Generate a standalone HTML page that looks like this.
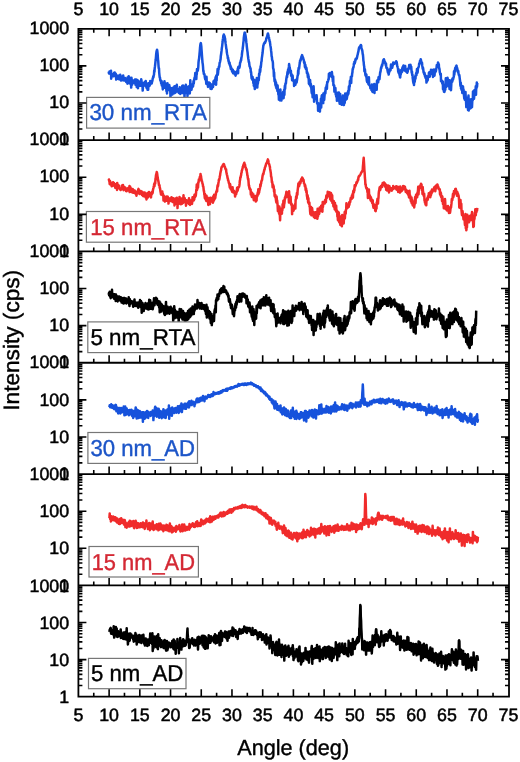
<!DOCTYPE html><html><head><meta charset="utf-8"><title>XRD</title><style>html,body{margin:0;padding:0;background:#fff;}svg{display:block;}text{font-family:"Liberation Sans",Arial,sans-serif;}.k{stroke:#000;stroke-width:0.5px;}.t{stroke-width:0.4px;}</style></head><body>
<svg text-rendering="geometricPrecision" width="520" height="762" viewBox="0 0 520 762">
<rect width="520" height="762" fill="#fff"/>
<polyline fill="none" stroke="#1652dc" stroke-width="2.5" stroke-linejoin="round" points="108.7,71.5 109.0,73.6 109.2,73.6 109.5,71.5 109.7,72.0 110.0,71.9 110.2,73.7 110.5,73.0 110.7,74.4 111.0,70.7 111.2,78.7 111.5,73.9 111.7,75.3 112.0,74.2 112.2,74.0 112.5,75.4 112.7,76.1 113.0,74.6 113.2,74.8 113.5,76.2 113.7,73.8 114.0,72.8 114.2,76.1 114.5,74.4 114.7,72.5 115.0,74.4 115.2,75.1 115.5,73.9 115.7,73.5 116.0,76.2 116.2,79.6 116.5,76.0 116.7,75.2 117.0,77.2 117.2,77.9 117.5,76.3 117.7,77.8 118.0,78.8 118.2,76.7 118.5,75.8 118.7,77.9 119.0,77.8 119.2,79.4 119.5,75.3 119.7,76.4 120.0,76.2 120.2,74.7 120.5,78.1 120.7,78.9 121.0,76.7 121.2,80.6 121.5,79.7 121.7,79.5 122.0,79.1 122.2,80.2 122.5,76.2 122.7,79.8 123.0,79.9 123.2,75.6 123.5,79.6 123.7,78.6 124.0,80.6 124.2,78.4 124.5,79.3 124.7,80.0 125.0,77.9 125.2,80.7 125.5,79.4 125.7,80.6 126.0,78.8 126.2,81.9 126.5,81.1 126.7,79.7 127.0,81.3 127.2,82.5 127.5,83.6 127.7,77.3 128.0,82.0 128.2,81.3 128.5,80.3 128.7,76.3 129.0,83.1 129.2,78.3 129.5,81.9 129.7,83.4 130.0,77.8 130.2,80.4 130.5,78.5 130.7,81.6 131.0,84.2 131.2,87.6 131.5,77.8 131.7,80.3 132.0,82.9 132.2,84.7 132.5,82.5 132.7,80.2 133.0,82.3 133.2,81.8 133.5,81.5 133.7,80.5 134.0,82.8 134.2,82.7 134.5,81.9 134.7,81.7 135.0,79.6 135.2,81.3 135.5,84.8 135.7,82.0 136.0,79.6 136.2,85.3 136.5,83.7 136.7,87.0 137.0,82.9 137.2,81.9 137.5,79.9 137.7,85.7 138.0,88.3 138.2,81.3 138.5,81.8 138.7,84.4 139.0,81.5 139.2,82.7 139.5,82.6 139.7,83.8 140.0,85.8 140.2,83.6 140.5,85.6 140.7,82.8 141.0,84.5 141.2,79.3 141.5,80.8 141.7,85.7 142.0,82.8 142.2,85.4 142.5,85.4 142.7,90.6 143.0,86.1 143.2,86.6 143.5,84.3 143.7,83.0 144.0,83.0 144.2,83.6 144.5,82.3 144.7,83.6 145.0,84.7 145.2,85.6 145.5,84.3 145.7,80.9 146.0,85.0 146.2,85.8 146.5,87.8 146.7,86.7 147.0,84.1 147.2,83.8 147.5,89.8 147.7,86.9 148.0,89.2 148.2,89.8 148.5,83.2 148.7,85.8 149.0,85.8 149.2,86.0 149.5,85.9 149.7,85.0 150.0,84.9 150.2,81.0 150.5,83.6 150.7,82.0 151.0,83.5 151.2,81.8 151.5,83.6 151.7,83.5 152.0,81.9 152.2,81.3 152.5,80.2 152.7,78.4 153.0,78.1 153.2,76.6 153.5,77.1 153.7,75.3 154.0,74.8 154.2,70.6 154.5,71.9 154.7,68.1 155.0,66.2 155.2,64.5 155.5,61.3 155.7,60.0 156.0,56.6 156.2,53.8 156.5,51.6 156.7,50.9 157.0,49.8 157.2,50.1 157.5,52.6 157.7,54.7 158.0,59.8 158.2,60.8 158.5,65.3 158.7,68.1 159.0,68.2 159.2,72.6 159.5,75.6 159.7,77.4 160.0,77.6 160.2,80.2 160.5,79.9 160.7,81.3 161.0,81.3 161.2,83.6 161.5,81.1 161.8,85.4 162.0,83.2 162.3,82.4 162.5,86.0 162.8,89.4 163.0,88.2 163.3,84.9 163.5,87.8 163.8,85.3 164.0,86.1 164.3,86.7 164.5,81.3 164.8,87.7 165.0,84.4 165.3,85.3 165.5,83.6 165.8,83.6 166.0,85.1 166.3,89.4 166.5,91.5 166.8,87.5 167.0,93.5 167.3,87.2 167.5,83.3 167.8,88.4 168.0,89.2 168.3,87.2 168.5,89.1 168.8,89.9 169.0,86.4 169.3,85.0 169.5,88.2 169.8,88.4 170.0,88.1 170.3,91.5 170.5,97.1 170.8,88.0 171.0,90.9 171.3,91.5 171.5,90.9 171.8,91.8 172.0,88.2 172.3,93.3 172.5,94.4 172.8,91.3 173.0,87.7 173.3,90.9 173.5,92.5 173.8,90.3 174.0,88.0 174.3,93.3 174.5,86.3 174.8,90.8 175.0,89.5 175.3,86.5 175.5,92.7 175.8,90.5 176.0,86.6 176.3,91.2 176.5,88.5 176.8,84.8 177.0,87.9 177.3,90.4 177.5,91.4 177.8,90.2 178.0,89.9 178.3,91.0 178.5,89.3 178.8,92.9 179.0,90.3 179.3,90.7 179.5,91.3 179.8,87.3 180.0,88.2 180.3,93.9 180.5,90.8 180.8,89.2 181.0,90.8 181.3,88.6 181.5,90.5 181.8,88.1 182.0,90.5 182.3,85.7 182.5,93.1 182.8,88.3 183.0,85.6 183.3,88.3 183.5,88.6 183.8,89.9 184.0,86.6 184.3,90.5 184.5,97.5 184.8,86.2 185.0,90.2 185.3,88.6 185.5,89.8 185.8,84.7 186.0,86.3 186.3,90.4 186.5,89.1 186.8,93.3 187.0,87.4 187.3,89.5 187.5,96.4 187.8,87.1 188.0,86.7 188.3,88.6 188.5,88.4 188.8,90.3 189.0,88.3 189.3,85.9 189.5,88.0 189.8,93.5 190.0,90.0 190.3,80.2 190.5,86.1 190.8,84.2 191.0,87.4 191.3,85.3 191.5,89.8 191.8,87.3 192.0,86.9 192.3,85.1 192.5,84.4 192.8,85.0 193.0,86.6 193.3,84.0 193.5,81.2 193.8,83.4 194.0,80.3 194.3,79.5 194.5,77.8 194.8,77.8 195.0,77.2 195.3,72.9 195.5,79.1 195.8,77.7 196.0,75.7 196.3,79.1 196.5,75.2 196.8,74.2 197.0,69.0 197.3,71.2 197.5,70.9 197.8,70.6 198.0,69.2 198.3,66.8 198.5,62.6 198.8,59.8 199.0,59.4 199.3,56.5 199.5,54.1 199.8,50.8 200.0,48.1 200.3,45.2 200.5,44.0 200.8,43.1 201.0,44.1 201.3,46.4 201.5,49.3 201.8,53.0 202.0,56.2 202.3,59.9 202.5,62.6 202.8,64.3 203.0,66.5 203.3,71.1 203.5,70.7 203.8,73.8 204.0,74.3 204.3,74.0 204.5,74.7 204.8,77.1 205.0,78.2 205.3,79.6 205.5,76.9 205.8,78.7 206.0,80.2 206.3,83.9 206.5,76.7 206.8,83.1 207.0,81.9 207.3,84.1 207.5,82.3 207.8,84.2 208.0,86.9 208.3,84.5 208.5,84.9 208.8,84.9 209.0,82.6 209.3,85.6 209.5,84.1 209.8,82.9 210.0,84.7 210.3,84.5 210.5,88.8 210.8,85.2 211.0,84.2 211.3,88.9 211.5,88.0 211.8,88.8 212.0,87.3 212.3,85.5 212.5,84.5 212.8,84.6 213.0,87.0 213.3,84.9 213.5,81.2 213.8,84.1 214.1,80.9 214.3,83.7 214.6,80.3 214.8,79.7 215.1,81.9 215.3,80.9 215.6,77.2 215.8,81.1 216.1,84.8 216.3,75.6 216.6,80.6 216.8,75.4 217.1,74.9 217.3,74.6 217.6,69.0 217.8,74.8 218.1,72.6 218.3,69.9 218.6,69.4 218.8,66.8 219.1,66.9 219.3,66.8 219.6,63.0 219.8,62.7 220.1,61.6 220.3,60.6 220.6,59.0 220.8,56.2 221.1,54.2 221.3,52.8 221.6,50.4 221.8,48.3 222.1,46.6 222.3,44.6 222.6,42.0 222.8,39.8 223.1,38.2 223.3,35.9 223.6,35.4 223.8,34.5 224.1,35.6 224.3,35.7 224.6,36.5 224.8,37.7 225.1,38.6 225.3,41.3 225.6,43.4 225.8,44.6 226.1,46.8 226.3,48.6 226.6,49.5 226.8,52.1 227.1,53.8 227.3,54.8 227.6,56.0 227.8,58.3 228.1,57.6 228.3,59.8 228.6,61.5 228.8,60.9 229.1,63.5 229.3,63.2 229.6,62.6 229.8,65.1 230.1,64.9 230.3,66.9 230.6,66.0 230.8,68.9 231.1,67.5 231.3,69.2 231.6,68.6 231.8,69.4 232.1,71.7 232.3,70.9 232.6,70.5 232.8,69.7 233.1,73.3 233.3,73.1 233.6,71.9 233.8,73.0 234.1,71.5 234.3,71.7 234.6,72.2 234.8,74.3 235.1,74.4 235.3,72.4 235.6,75.7 235.8,74.1 236.1,72.8 236.3,73.7 236.6,71.5 236.8,71.4 237.1,71.8 237.3,70.7 237.6,71.4 237.8,68.5 238.1,73.2 238.3,67.0 238.6,68.3 238.8,66.4 239.1,67.8 239.3,67.8 239.6,66.8 239.8,65.7 240.1,62.7 240.3,62.5 240.6,61.7 240.8,60.3 241.1,60.4 241.3,58.4 241.6,56.8 241.8,55.5 242.1,52.6 242.3,51.3 242.6,49.4 242.8,47.7 243.1,45.3 243.3,43.0 243.6,40.8 243.8,37.7 244.1,35.8 244.3,34.3 244.6,32.7 244.8,32.6 245.1,33.5 245.3,34.5 245.6,36.0 245.8,37.6 246.1,39.6 246.3,42.2 246.6,44.0 246.8,46.5 247.1,49.0 247.3,50.6 247.6,52.5 247.8,54.8 248.1,57.0 248.3,58.7 248.6,60.3 248.8,62.2 249.1,62.1 249.3,64.1 249.6,66.4 249.8,66.6 250.1,67.4 250.3,68.6 250.6,68.6 250.8,72.2 251.1,72.0 251.3,74.9 251.6,78.3 251.8,76.3 252.1,79.6 252.3,78.8 252.6,77.1 252.8,79.5 253.1,78.8 253.3,83.0 253.6,79.9 253.8,85.7 254.1,84.8 254.3,79.9 254.6,86.6 254.8,89.1 255.1,84.1 255.3,87.8 255.6,81.2 255.8,85.4 256.1,80.9 256.3,85.3 256.6,80.1 256.8,78.0 257.1,84.0 257.3,87.6 257.6,81.3 257.8,83.9 258.1,81.7 258.3,79.4 258.6,79.8 258.8,80.1 259.1,73.8 259.3,75.3 259.6,73.5 259.8,69.6 260.1,72.1 260.3,70.9 260.6,66.3 260.8,67.5 261.1,64.3 261.3,62.1 261.6,61.2 261.8,58.4 262.1,56.4 262.3,54.9 262.6,52.8 262.8,50.5 263.1,47.8 263.3,45.8 263.6,45.1 263.8,44.0 264.1,43.8 264.3,43.0 264.6,42.8 264.8,42.3 265.1,42.9 265.3,41.8 265.6,41.6 265.8,40.7 266.1,40.2 266.3,38.5 266.6,38.0 266.9,37.0 267.1,36.3 267.4,35.4 267.6,34.2 267.9,33.5 268.1,34.0 268.4,35.3 268.6,36.3 268.9,37.2 269.1,38.5 269.4,39.7 269.6,41.4 269.9,41.7 270.1,43.4 270.4,45.7 270.6,46.6 270.9,48.6 271.1,50.7 271.4,53.0 271.6,56.2 271.9,57.2 272.1,59.7 272.4,60.7 272.6,60.9 272.9,62.8 273.1,67.9 273.4,69.1 273.6,69.2 273.9,76.4 274.1,72.4 274.4,78.8 274.6,81.5 274.9,79.4 275.1,80.1 275.4,84.9 275.6,81.6 275.9,86.7 276.1,82.9 276.4,88.3 276.6,87.5 276.9,87.0 277.1,86.6 277.4,91.0 277.6,85.5 277.9,90.6 278.1,91.0 278.4,94.8 278.6,90.1 278.9,99.6 279.1,94.1 279.4,91.7 279.6,99.4 279.9,100.3 280.1,94.8 280.4,89.5 280.6,95.6 280.9,93.5 281.1,94.7 281.4,100.6 281.6,97.1 281.9,96.4 282.1,96.8 282.4,94.9 282.6,96.8 282.9,96.2 283.1,92.0 283.4,92.6 283.6,98.3 283.9,92.1 284.1,89.9 284.4,94.9 284.6,89.0 284.9,85.7 285.1,88.9 285.4,83.8 285.6,83.2 285.9,83.5 286.1,81.0 286.4,78.4 286.6,77.3 286.9,75.8 287.1,77.2 287.4,72.7 287.6,71.6 287.9,73.9 288.1,69.4 288.4,70.6 288.6,69.1 288.9,66.4 289.1,64.1 289.4,66.2 289.6,67.6 289.9,69.0 290.1,69.2 290.4,71.7 290.6,73.2 290.9,70.9 291.1,75.6 291.4,74.6 291.6,74.3 291.9,75.6 292.1,80.2 292.4,79.6 292.6,75.5 292.9,79.8 293.1,80.2 293.4,81.0 293.6,81.2 293.9,80.1 294.1,85.9 294.4,82.8 294.6,83.8 294.9,82.8 295.1,82.1 295.4,84.7 295.6,83.4 295.9,80.8 296.1,79.8 296.4,80.3 296.6,82.6 296.9,80.5 297.1,79.7 297.4,77.1 297.6,75.8 297.9,75.1 298.1,70.5 298.4,73.9 298.6,68.1 298.9,68.1 299.1,68.6 299.4,65.9 299.6,64.2 299.9,62.3 300.1,60.4 300.4,60.9 300.6,60.7 300.9,58.5 301.1,59.0 301.4,56.8 301.6,56.2 301.9,56.0 302.1,55.1 302.4,56.4 302.6,56.6 302.9,57.3 303.1,57.7 303.4,59.0 303.6,59.9 303.9,60.5 304.1,62.9 304.4,62.6 304.6,62.2 304.9,66.8 305.1,64.6 305.4,65.0 305.6,68.2 305.9,68.9 306.1,67.3 306.4,67.8 306.6,69.3 306.9,73.1 307.1,72.1 307.4,72.3 307.6,74.5 307.9,77.5 308.1,74.2 308.4,76.9 308.6,76.1 308.9,83.6 309.1,84.1 309.4,83.5 309.6,82.3 309.9,85.0 310.1,80.0 310.4,86.2 310.6,83.5 310.9,84.4 311.1,86.8 311.4,88.7 311.6,92.1 311.9,93.5 312.1,92.9 312.4,89.9 312.6,97.2 312.9,93.0 313.1,97.1 313.4,91.4 313.6,86.3 313.9,93.4 314.1,101.7 314.4,97.0 314.6,95.4 314.9,99.1 315.1,98.3 315.4,98.6 315.6,95.8 315.9,98.1 316.1,98.9 316.4,96.5 316.6,95.3 316.9,100.1 317.1,103.4 317.4,102.8 317.6,102.7 317.9,103.2 318.1,110.8 318.4,103.2 318.6,106.6 318.9,110.7 319.1,103.7 319.4,105.0 319.7,108.6 319.9,111.6 320.2,106.0 320.4,105.8 320.7,104.3 320.9,98.8 321.2,107.4 321.4,101.7 321.7,95.8 321.9,101.3 322.2,95.1 322.4,97.3 322.7,100.7 322.9,96.9 323.2,103.1 323.4,93.5 323.7,98.3 323.9,98.2 324.2,99.9 324.4,97.1 324.7,94.1 324.9,92.6 325.2,91.2 325.4,93.4 325.7,87.7 325.9,89.7 326.2,87.2 326.4,87.0 326.7,84.8 326.9,89.0 327.2,82.0 327.4,82.9 327.7,81.9 327.9,81.6 328.2,80.2 328.4,79.1 328.7,79.1 328.9,73.8 329.2,75.8 329.4,73.5 329.7,75.6 329.9,73.0 330.2,73.0 330.4,74.2 330.7,76.1 330.9,74.5 331.2,74.3 331.4,76.7 331.7,73.5 331.9,72.1 332.2,75.4 332.4,76.2 332.7,79.4 332.9,81.6 333.2,76.5 333.4,85.1 333.7,84.9 333.9,85.0 334.2,85.4 334.4,91.6 334.7,87.7 334.9,87.7 335.2,90.7 335.4,88.0 335.7,94.5 335.9,94.2 336.2,96.3 336.4,96.9 336.7,92.9 336.9,100.8 337.2,93.8 337.4,100.4 337.7,92.7 337.9,99.6 338.2,96.1 338.4,99.4 338.7,97.5 338.9,92.5 339.2,96.6 339.4,101.3 339.7,103.8 339.9,96.4 340.2,94.0 340.4,98.6 340.7,100.9 340.9,99.3 341.2,98.5 341.4,104.5 341.7,104.7 341.9,103.8 342.2,97.6 342.4,101.1 342.7,100.0 342.9,95.5 343.2,103.6 343.4,100.7 343.7,98.5 343.9,105.1 344.2,102.4 344.4,102.1 344.7,102.8 344.9,100.6 345.2,93.6 345.4,95.9 345.7,99.9 345.9,93.8 346.2,96.0 346.4,96.4 346.7,99.0 346.9,98.0 347.2,96.3 347.4,92.7 347.7,95.2 347.9,93.6 348.2,90.9 348.4,93.9 348.7,90.6 348.9,86.5 349.2,90.3 349.4,85.7 349.7,86.6 349.9,81.0 350.2,83.3 350.4,80.4 350.7,79.4 350.9,76.7 351.2,82.9 351.4,77.3 351.7,76.6 351.9,76.6 352.2,73.2 352.4,72.7 352.7,68.9 352.9,69.4 353.2,67.4 353.4,67.5 353.7,65.7 353.9,63.6 354.2,62.6 354.4,61.7 354.7,63.4 354.9,62.5 355.2,61.9 355.4,59.7 355.7,58.8 355.9,59.7 356.2,59.4 356.4,58.8 356.7,58.8 356.9,58.0 357.2,56.4 357.4,55.4 357.7,54.6 357.9,53.4 358.2,52.0 358.4,51.7 358.7,49.5 358.9,48.4 359.2,47.4 359.4,47.2 359.7,47.0 359.9,46.6 360.2,46.0 360.4,45.9 360.7,45.2 360.9,45.0 361.2,45.6 361.4,48.3 361.7,48.9 361.9,49.7 362.2,50.1 362.4,51.3 362.7,54.2 362.9,54.4 363.2,57.7 363.4,60.6 363.7,62.3 363.9,65.0 364.2,66.4 364.4,71.3 364.7,69.0 364.9,69.4 365.2,72.5 365.4,75.1 365.7,73.8 365.9,76.4 366.2,74.8 366.4,74.5 366.7,79.8 366.9,81.1 367.2,82.0 367.4,79.2 367.7,78.7 367.9,79.5 368.2,81.9 368.4,84.1 368.7,84.5 368.9,77.2 369.2,84.8 369.4,84.9 369.7,85.6 369.9,85.8 370.2,85.9 370.4,88.3 370.7,87.7 370.9,88.4 371.2,86.7 371.4,89.9 371.7,89.1 371.9,84.5 372.2,91.1 372.5,89.0 372.7,91.9 373.0,89.0 373.2,89.0 373.5,89.6 373.7,88.8 374.0,87.6 374.2,84.1 374.5,92.9 374.7,84.3 375.0,87.2 375.2,89.0 375.5,87.7 375.7,87.5 376.0,87.2 376.2,87.6 376.5,84.8 376.7,89.7 377.0,80.8 377.2,82.7 377.5,80.9 377.7,79.9 378.0,80.8 378.2,82.3 378.5,77.6 378.7,77.0 379.0,78.9 379.2,77.9 379.5,79.2 379.7,76.5 380.0,74.1 380.2,72.2 380.5,71.9 380.7,70.3 381.0,67.9 381.2,68.4 381.5,67.1 381.7,66.0 382.0,64.8 382.2,65.7 382.5,64.0 382.7,63.4 383.0,61.4 383.2,60.3 383.5,59.9 383.7,59.4 384.0,59.3 384.2,60.2 384.5,61.8 384.7,62.4 385.0,61.9 385.2,63.1 385.5,63.7 385.7,65.2 386.0,63.5 386.2,66.4 386.5,68.0 386.7,68.0 387.0,67.7 387.2,68.7 387.5,70.3 387.7,71.4 388.0,72.6 388.2,72.0 388.5,71.0 388.7,74.6 389.0,72.5 389.2,72.1 389.5,71.5 389.7,69.3 390.0,69.7 390.2,69.9 390.5,70.3 390.7,68.6 391.0,64.6 391.2,67.3 391.5,67.4 391.7,67.8 392.0,66.6 392.2,67.7 392.5,66.2 392.7,65.5 393.0,64.6 393.2,62.6 393.5,64.3 393.7,64.0 394.0,63.0 394.2,63.9 394.5,63.6 394.7,62.8 395.0,63.0 395.2,62.8 395.5,63.1 395.7,62.5 396.0,63.2 396.2,61.2 396.5,62.4 396.7,62.1 397.0,64.1 397.2,66.1 397.5,66.6 397.7,67.5 398.0,68.7 398.2,71.6 398.5,69.3 398.7,73.0 399.0,70.6 399.2,73.1 399.5,75.1 399.7,74.5 400.0,77.3 400.2,77.4 400.5,73.4 400.7,74.4 401.0,73.1 401.2,70.0 401.5,71.7 401.7,70.0 402.0,71.9 402.2,68.3 402.5,70.4 402.7,67.1 403.0,68.7 403.2,66.4 403.5,65.5 403.7,66.3 404.0,67.0 404.2,68.1 404.5,70.6 404.7,67.5 405.0,67.1 405.2,66.0 405.5,69.2 405.7,71.2 406.0,71.3 406.2,71.6 406.5,71.5 406.7,71.7 407.0,72.4 407.2,72.8 407.5,69.3 407.7,72.0 408.0,68.7 408.2,69.8 408.5,68.6 408.7,68.4 409.0,67.1 409.2,65.0 409.5,66.9 409.7,65.4 410.0,68.3 410.2,65.0 410.5,64.9 410.7,66.3 411.0,67.1 411.2,66.7 411.5,70.7 411.7,72.9 412.0,71.5 412.2,75.3 412.5,74.6 412.7,78.0 413.0,80.1 413.2,81.8 413.5,83.1 413.7,82.2 414.0,85.1 414.2,81.4 414.5,82.1 414.7,81.8 415.0,79.0 415.2,76.3 415.5,78.7 415.7,74.8 416.0,74.3 416.2,73.1 416.5,75.2 416.7,72.7 417.0,68.9 417.2,72.1 417.5,72.9 417.7,71.6 418.0,68.0 418.2,67.8 418.5,67.4 418.7,66.9 419.0,65.2 419.2,63.4 419.5,64.1 419.7,63.1 420.0,60.8 420.2,60.6 420.5,60.2 420.7,59.2 421.0,60.1 421.2,61.4 421.5,62.2 421.7,62.7 422.0,62.7 422.2,65.4 422.5,67.2 422.7,68.9 423.0,67.8 423.2,68.9 423.5,71.7 423.7,72.8 424.0,72.5 424.2,74.0 424.5,72.8 424.8,75.9 425.0,74.6 425.3,76.7 425.5,77.8 425.8,78.1 426.0,76.0 426.3,79.4 426.5,82.6 426.8,81.1 427.0,79.8 427.3,80.7 427.5,80.4 427.8,80.0 428.0,76.3 428.3,77.1 428.5,75.8 428.8,74.2 429.0,72.5 429.3,74.1 429.5,72.6 429.8,76.8 430.0,72.9 430.3,72.2 430.5,71.5 430.8,74.1 431.0,69.8 431.3,70.5 431.5,70.0 431.8,71.1 432.0,71.4 432.3,73.2 432.5,70.0 432.8,72.2 433.0,77.0 433.3,71.9 433.5,72.7 433.8,71.8 434.0,69.4 434.3,73.5 434.5,75.7 434.8,72.7 435.0,70.0 435.3,72.2 435.5,71.1 435.8,71.4 436.0,70.5 436.3,68.3 436.5,68.2 436.8,65.1 437.0,67.2 437.3,65.5 437.5,65.4 437.8,64.6 438.0,62.6 438.3,63.3 438.5,64.0 438.8,64.1 439.0,67.3 439.3,68.9 439.5,68.8 439.8,72.4 440.0,72.9 440.3,74.8 440.5,74.1 440.8,73.7 441.0,81.1 441.3,80.3 441.5,80.2 441.8,80.7 442.0,82.1 442.3,83.6 442.5,83.9 442.8,81.6 443.0,89.2 443.3,84.8 443.5,88.8 443.8,90.0 444.0,91.8 444.3,85.5 444.5,91.9 444.8,89.8 445.0,89.3 445.3,89.7 445.5,84.2 445.8,78.3 446.0,85.4 446.3,86.7 446.5,85.6 446.8,81.4 447.0,81.6 447.3,81.6 447.5,77.7 447.8,80.3 448.0,79.2 448.3,85.6 448.5,81.4 448.8,86.4 449.0,83.5 449.3,80.2 449.5,88.9 449.8,82.4 450.0,86.2 450.3,89.0 450.5,84.4 450.8,83.2 451.0,90.2 451.3,84.4 451.5,80.5 451.8,79.8 452.0,80.2 452.3,81.8 452.5,78.4 452.8,79.1 453.0,79.8 453.3,78.3 453.5,77.7 453.8,76.5 454.0,71.3 454.3,74.8 454.5,72.7 454.8,71.2 455.0,69.2 455.3,67.9 455.5,67.8 455.8,68.2 456.0,66.3 456.3,65.9 456.5,65.5 456.8,67.7 457.0,67.6 457.3,68.6 457.5,71.3 457.8,70.2 458.0,72.3 458.3,70.9 458.5,73.8 458.8,74.4 459.0,75.5 459.3,74.9 459.5,76.3 459.8,79.1 460.0,80.2 460.3,84.7 460.5,86.0 460.8,82.8 461.0,88.5 461.3,87.0 461.5,89.8 461.8,88.0 462.0,86.0 462.3,92.9 462.5,91.9 462.8,88.0 463.0,86.6 463.3,90.8 463.5,89.5 463.8,92.3 464.0,95.6 464.3,98.7 464.5,93.8 464.8,99.7 465.0,99.7 465.3,95.3 465.5,91.9 465.8,100.7 466.0,100.5 466.3,107.1 466.5,104.6 466.8,103.0 467.0,106.9 467.3,97.6 467.5,102.8 467.8,101.6 468.0,110.0 468.3,106.1 468.5,95.4 468.8,110.5 469.0,102.0 469.3,109.0 469.5,103.4 469.8,105.8 470.0,106.9 470.3,104.6 470.5,99.6 470.8,108.2 471.0,103.9 471.3,101.8 471.5,104.0 471.8,98.9 472.0,107.1 472.3,100.7 472.5,100.6 472.8,99.9 473.0,91.4 473.3,93.4 473.5,97.1 473.8,96.7 474.0,98.8 474.3,95.3 474.5,90.1 474.8,93.9 475.0,93.9 475.3,93.5 475.5,90.9 475.8,86.2 476.0,94.8 476.3,85.9 476.5,88.3 476.8,82.5 477.0,87.0 477.3,82.8"/>
<polyline fill="none" stroke="#f02b2b" stroke-width="2.5" stroke-linejoin="round" points="108.7,180.6 109.0,179.4 109.2,180.9 109.5,181.8 109.7,184.2 110.0,181.0 110.2,183.9 110.5,184.5 110.7,182.8 111.0,182.6 111.2,184.1 111.5,185.1 111.7,186.3 112.0,185.0 112.2,186.0 112.5,183.6 112.7,183.2 113.0,182.3 113.2,183.1 113.5,184.1 113.7,184.9 114.0,183.1 114.2,185.8 114.5,184.6 114.7,184.2 115.0,184.1 115.2,187.8 115.5,185.5 115.7,184.2 116.0,184.3 116.2,187.9 116.5,184.9 116.7,187.3 117.0,189.9 117.2,182.9 117.5,187.8 117.7,185.9 118.0,184.8 118.2,185.6 118.5,187.2 118.7,187.0 119.0,187.2 119.2,185.7 119.5,188.5 119.7,188.9 120.0,189.4 120.2,188.4 120.5,189.7 120.7,190.0 121.0,188.2 121.2,188.6 121.5,188.2 121.7,188.3 122.0,188.8 122.2,185.3 122.5,187.3 122.7,188.5 123.0,185.0 123.2,186.0 123.5,190.2 123.7,186.6 124.0,187.5 124.2,188.8 124.5,187.7 124.7,187.2 125.0,187.8 125.2,188.0 125.5,187.8 125.7,189.0 126.0,191.1 126.2,189.4 126.5,191.3 126.7,190.1 127.0,190.3 127.2,190.0 127.5,188.8 127.7,189.9 128.0,189.8 128.2,187.9 128.5,190.6 128.7,190.5 129.0,190.2 129.2,188.9 129.5,186.0 129.7,192.1 130.0,189.9 130.2,186.8 130.5,191.1 130.7,187.9 131.0,191.3 131.2,190.2 131.5,192.1 131.7,190.9 132.0,191.0 132.2,190.9 132.5,192.6 132.7,188.9 133.0,192.7 133.2,192.0 133.5,190.2 133.7,191.1 134.0,190.5 134.2,191.4 134.5,192.8 134.7,190.4 135.0,192.6 135.2,193.0 135.5,192.6 135.7,194.2 136.0,191.7 136.2,193.0 136.5,195.8 136.7,192.1 137.0,191.9 137.2,192.2 137.5,193.2 137.7,191.3 138.0,192.0 138.2,189.7 138.5,188.9 138.7,191.0 139.0,190.8 139.2,192.1 139.5,194.0 139.7,192.3 140.0,190.9 140.2,193.5 140.5,193.4 140.7,190.9 141.0,193.5 141.2,191.6 141.5,191.2 141.7,192.3 142.0,195.0 142.2,192.3 142.5,193.2 142.7,194.2 143.0,195.7 143.2,196.0 143.5,192.4 143.7,196.2 144.0,194.7 144.2,196.3 144.5,196.2 144.7,192.5 145.0,194.6 145.2,194.1 145.5,195.4 145.7,197.6 146.0,195.0 146.2,193.8 146.5,199.4 146.7,193.4 147.0,195.2 147.2,195.2 147.5,193.1 147.7,196.8 148.0,197.4 148.2,195.3 148.5,195.5 148.7,194.9 149.0,192.1 149.2,195.5 149.5,192.8 149.7,193.2 150.0,195.4 150.2,196.2 150.5,193.1 150.7,196.4 151.0,197.4 151.2,194.6 151.5,194.1 151.7,194.4 152.0,193.3 152.2,191.7 152.5,193.3 152.7,192.4 153.0,189.7 153.2,188.9 153.5,187.8 153.7,186.8 154.0,185.5 154.2,184.0 154.5,186.2 154.7,183.2 155.0,182.2 155.2,183.6 155.5,178.7 155.7,178.1 156.0,175.2 156.2,174.3 156.5,173.6 156.7,172.1 157.0,172.8 157.2,174.0 157.5,176.7 157.7,177.1 158.0,179.8 158.2,180.8 158.5,181.6 158.7,183.0 159.0,185.1 159.2,185.3 159.5,185.1 159.7,187.9 160.0,188.1 160.2,189.3 160.5,191.6 160.7,192.4 161.0,194.6 161.2,193.0 161.5,192.9 161.8,193.4 162.0,194.9 162.3,191.6 162.5,194.3 162.8,193.7 163.0,194.2 163.3,195.5 163.5,200.4 163.8,195.8 164.0,197.2 164.3,197.2 164.5,197.1 164.8,197.7 165.0,201.6 165.3,197.6 165.5,201.1 165.8,199.4 166.0,196.7 166.3,197.1 166.5,197.6 166.8,196.5 167.0,200.7 167.3,199.4 167.5,199.7 167.8,196.8 168.0,199.7 168.3,197.9 168.5,203.6 168.8,198.9 169.0,199.7 169.3,200.0 169.5,198.4 169.8,198.6 170.0,198.7 170.3,201.1 170.5,198.2 170.8,199.3 171.0,200.4 171.3,199.0 171.5,197.2 171.8,197.6 172.0,199.2 172.3,198.2 172.5,202.0 172.8,200.2 173.0,200.2 173.3,198.3 173.5,201.4 173.8,199.7 174.0,198.6 174.3,199.3 174.5,205.4 174.8,199.5 175.0,199.0 175.3,203.1 175.5,202.3 175.8,200.3 176.0,203.8 176.3,198.1 176.5,200.1 176.8,197.8 177.0,204.0 177.3,201.4 177.5,208.1 177.8,202.3 178.0,202.4 178.3,199.2 178.5,199.2 178.8,200.6 179.0,203.6 179.3,199.6 179.5,196.9 179.8,203.6 180.0,203.8 180.3,200.0 180.5,202.8 180.8,204.2 181.0,204.3 181.3,198.6 181.5,202.0 181.8,200.2 182.0,203.8 182.3,202.0 182.5,199.3 182.8,202.0 183.0,203.0 183.3,198.6 183.5,195.3 183.8,200.4 184.0,200.1 184.3,200.6 184.5,197.9 184.8,198.5 185.0,201.7 185.3,202.6 185.5,199.9 185.8,202.1 186.0,205.7 186.3,201.3 186.5,200.8 186.8,200.3 187.0,202.8 187.3,202.3 187.5,202.3 187.8,201.0 188.0,202.7 188.3,202.6 188.5,201.3 188.8,203.9 189.0,198.2 189.3,202.8 189.5,201.0 189.8,202.9 190.0,205.0 190.3,201.1 190.5,200.5 190.8,200.8 191.0,203.5 191.3,203.7 191.5,200.9 191.8,201.7 192.0,203.9 192.3,201.3 192.5,197.2 192.8,198.4 193.0,198.9 193.3,200.0 193.5,197.5 193.8,200.5 194.0,196.4 194.3,199.4 194.5,194.8 194.8,197.6 195.0,194.9 195.3,196.3 195.5,196.4 195.8,195.4 196.0,193.5 196.3,189.8 196.5,188.7 196.8,184.4 197.0,189.9 197.3,188.6 197.5,187.2 197.8,183.5 198.0,187.6 198.3,182.2 198.5,182.8 198.8,179.5 199.0,179.7 199.3,180.5 199.5,179.4 199.8,176.9 200.0,176.8 200.3,176.9 200.5,174.0 200.8,176.5 201.0,175.9 201.3,178.8 201.5,179.3 201.8,181.6 202.0,181.3 202.3,182.7 202.5,183.8 202.8,184.2 203.0,186.3 203.3,186.4 203.5,188.2 203.8,191.2 204.0,190.9 204.3,194.3 204.5,195.0 204.8,198.1 205.0,194.1 205.3,197.2 205.5,199.5 205.8,199.0 206.0,200.0 206.3,201.0 206.5,195.7 206.8,200.1 207.0,200.5 207.3,199.4 207.5,197.6 207.8,201.0 208.0,200.7 208.3,204.9 208.5,203.5 208.8,199.9 209.0,198.4 209.3,198.8 209.5,200.3 209.8,198.8 210.0,204.2 210.3,197.7 210.5,199.6 210.8,200.6 211.0,201.6 211.3,197.9 211.5,199.2 211.8,199.9 212.0,200.1 212.3,198.2 212.5,198.6 212.8,199.5 213.0,202.7 213.3,196.2 213.5,199.4 213.8,200.7 214.1,194.7 214.3,199.5 214.6,199.0 214.8,196.2 215.1,197.3 215.3,197.8 215.6,194.6 215.8,194.8 216.1,192.1 216.3,191.6 216.6,191.6 216.8,190.2 217.1,191.5 217.3,187.7 217.6,185.3 217.8,186.8 218.1,185.6 218.3,183.8 218.6,182.0 218.8,180.2 219.1,179.2 219.3,179.9 219.6,178.0 219.8,176.3 220.1,175.3 220.3,173.6 220.6,172.1 220.8,171.1 221.1,170.1 221.3,168.2 221.6,167.3 221.8,166.8 222.1,166.8 222.3,166.8 222.6,165.6 222.8,165.2 223.1,164.6 223.3,164.6 223.6,163.9 223.8,163.9 224.1,164.6 224.3,166.4 224.6,166.2 224.8,166.6 225.1,167.4 225.3,168.6 225.6,169.3 225.8,169.6 226.1,169.3 226.3,172.0 226.6,173.2 226.8,174.3 227.1,175.3 227.3,176.2 227.6,178.2 227.8,178.2 228.1,180.6 228.3,180.3 228.6,181.6 228.8,182.7 229.1,183.5 229.3,183.4 229.6,186.1 229.8,187.6 230.1,184.1 230.3,185.3 230.6,188.8 230.8,187.2 231.1,188.5 231.3,188.9 231.6,190.4 231.8,188.4 232.1,191.8 232.3,191.5 232.6,187.3 232.8,190.6 233.1,190.5 233.3,192.6 233.6,191.5 233.8,190.7 234.1,191.5 234.3,192.9 234.6,192.6 234.8,192.6 235.1,196.6 235.3,194.2 235.6,191.7 235.8,194.0 236.1,194.3 236.3,191.5 236.6,192.7 236.8,190.5 237.1,187.8 237.3,191.0 237.6,190.7 237.8,190.0 238.1,188.3 238.3,187.0 238.6,187.5 238.8,187.0 239.1,186.8 239.3,185.8 239.6,183.7 239.8,180.8 240.1,179.9 240.3,177.4 240.6,177.7 240.8,176.2 241.1,175.1 241.3,173.3 241.6,172.6 241.8,170.6 242.1,170.2 242.3,169.1 242.6,168.3 242.8,166.8 243.1,166.4 243.3,165.2 243.6,165.0 243.8,164.0 244.1,163.4 244.3,162.8 244.6,164.0 244.8,164.8 245.1,164.8 245.3,167.1 245.6,167.4 245.8,167.6 246.1,169.6 246.3,170.1 246.6,169.2 246.8,171.8 247.1,173.1 247.3,175.0 247.6,175.8 247.8,177.8 248.1,179.5 248.3,178.6 248.6,182.6 248.8,185.6 249.1,185.4 249.3,187.5 249.6,189.0 249.8,188.1 250.1,189.1 250.3,190.0 250.6,189.6 250.8,194.5 251.1,192.6 251.3,193.7 251.6,195.2 251.8,196.9 252.1,192.8 252.3,193.6 252.6,196.0 252.8,197.0 253.1,194.2 253.3,194.2 253.6,198.4 253.8,200.2 254.1,197.1 254.3,197.4 254.6,197.0 254.8,196.3 255.1,197.1 255.3,199.4 255.6,199.0 255.8,201.6 256.1,197.1 256.3,195.7 256.6,200.6 256.8,195.9 257.1,196.4 257.3,196.4 257.6,193.4 257.8,192.3 258.1,194.7 258.3,189.2 258.6,194.0 258.8,189.5 259.1,192.7 259.3,190.9 259.6,189.7 259.8,189.0 260.1,187.4 260.3,184.4 260.6,186.2 260.8,184.2 261.1,183.5 261.3,181.8 261.6,180.6 261.8,180.7 262.1,179.6 262.3,177.9 262.6,175.8 262.8,175.0 263.1,173.9 263.3,174.4 263.6,173.1 263.8,172.0 264.1,170.9 264.3,169.8 264.6,169.6 264.8,167.9 265.1,167.1 265.3,166.9 265.6,166.0 265.8,165.0 266.1,163.9 266.3,163.3 266.6,163.3 266.9,162.5 267.1,162.1 267.4,160.9 267.6,160.3 267.9,159.4 268.1,160.8 268.4,160.8 268.6,162.5 268.9,163.9 269.1,164.0 269.4,164.9 269.6,166.0 269.9,166.8 270.1,168.9 270.4,170.4 270.6,171.6 270.9,173.6 271.1,176.6 271.4,177.0 271.6,178.6 271.9,182.5 272.1,181.4 272.4,183.5 272.6,187.3 272.9,186.5 273.1,184.8 273.4,187.2 273.6,186.2 273.9,189.5 274.1,191.9 274.4,189.8 274.6,195.9 274.9,196.5 275.1,196.8 275.4,195.0 275.6,197.3 275.9,199.2 276.1,201.0 276.4,202.6 276.6,196.5 276.9,200.3 277.1,200.2 277.4,203.0 277.6,205.1 277.9,211.1 278.1,206.3 278.4,209.7 278.6,208.5 278.9,208.6 279.1,213.8 279.4,206.6 279.6,212.0 279.9,216.5 280.1,220.2 280.4,210.2 280.6,209.4 280.9,208.9 281.1,211.4 281.4,212.0 281.6,211.3 281.9,213.8 282.1,209.1 282.4,210.2 282.6,204.3 282.9,206.2 283.1,206.9 283.4,200.7 283.6,206.2 283.9,207.4 284.1,204.5 284.4,203.4 284.6,201.5 284.9,197.7 285.1,198.9 285.4,196.4 285.6,196.2 285.9,194.8 286.1,194.1 286.4,191.7 286.6,193.8 286.9,196.9 287.1,195.5 287.4,193.6 287.6,192.7 287.9,196.0 288.1,194.9 288.4,192.3 288.6,195.2 288.9,202.4 289.1,191.3 289.4,197.7 289.6,195.1 289.9,199.2 290.1,199.5 290.4,199.5 290.6,196.7 290.9,202.8 291.1,204.4 291.4,205.0 291.6,203.7 291.9,205.7 292.1,214.1 292.4,206.2 292.6,208.6 292.9,205.7 293.1,207.9 293.4,208.7 293.6,210.7 293.9,207.6 294.1,206.6 294.4,206.9 294.6,206.9 294.9,205.0 295.1,204.1 295.4,208.5 295.6,199.8 295.9,199.7 296.1,196.7 296.4,196.1 296.6,198.3 296.9,193.0 297.1,193.6 297.4,194.7 297.6,190.8 297.9,188.3 298.1,186.5 298.4,183.4 298.6,184.9 298.9,184.3 299.1,186.1 299.4,185.0 299.6,182.0 299.9,183.5 300.1,181.5 300.4,183.4 300.6,182.3 300.9,180.8 301.1,179.2 301.4,180.4 301.6,178.9 301.9,178.5 302.1,177.5 302.4,177.7 302.6,179.3 302.9,178.7 303.1,180.9 303.4,181.2 303.6,180.1 303.9,183.1 304.1,183.3 304.4,183.6 304.6,184.8 304.9,186.6 305.1,185.1 305.4,186.3 305.6,190.0 305.9,190.4 306.1,188.6 306.4,192.6 306.6,190.8 306.9,196.0 307.1,196.4 307.4,199.0 307.6,195.3 307.9,197.8 308.1,202.1 308.4,198.2 308.6,203.1 308.9,202.3 309.1,204.0 309.4,202.5 309.6,206.7 309.9,207.1 310.1,211.4 310.4,214.2 310.6,208.1 310.9,209.7 311.1,207.1 311.4,215.3 311.6,209.7 311.9,213.3 312.1,208.1 312.4,211.0 312.6,213.9 312.9,213.9 313.1,212.0 313.4,215.9 313.6,213.8 313.9,217.1 314.1,213.3 314.4,216.0 314.6,212.6 314.9,218.0 315.1,214.1 315.4,214.2 315.6,212.3 315.9,217.2 316.1,214.6 316.4,213.4 316.6,218.2 316.9,211.7 317.1,217.1 317.4,218.7 317.6,208.7 317.9,216.8 318.1,215.5 318.4,214.1 318.6,214.2 318.9,209.2 319.1,214.0 319.4,212.8 319.7,207.5 319.9,210.2 320.2,207.7 320.4,211.0 320.7,208.0 320.9,210.4 321.2,205.7 321.4,207.5 321.7,207.2 321.9,207.1 322.2,209.9 322.4,211.8 322.7,202.1 322.9,207.2 323.2,203.9 323.4,203.3 323.7,202.6 323.9,202.4 324.2,201.9 324.4,203.2 324.7,203.5 324.9,200.9 325.2,199.9 325.4,200.6 325.7,199.9 325.9,202.3 326.2,196.6 326.4,195.4 326.7,197.2 326.9,197.9 327.2,196.6 327.4,197.0 327.7,191.7 327.9,194.6 328.2,194.4 328.4,192.9 328.7,193.8 328.9,194.1 329.2,195.2 329.4,193.4 329.7,192.4 329.9,196.4 330.2,199.5 330.4,196.7 330.7,197.0 330.9,192.9 331.2,197.9 331.4,200.9 331.7,194.6 331.9,200.6 332.2,195.4 332.4,202.9 332.7,202.3 332.9,200.6 333.2,202.5 333.4,206.2 333.7,200.9 333.9,206.7 334.2,206.0 334.4,205.4 334.7,209.5 334.9,202.7 335.2,207.1 335.4,205.0 335.7,208.6 335.9,210.9 336.2,205.7 336.4,211.6 336.7,212.3 336.9,210.5 337.2,212.6 337.4,216.8 337.7,215.2 337.9,220.0 338.2,212.2 338.4,212.1 338.7,220.9 338.9,213.0 339.2,222.3 339.4,218.4 339.7,221.3 339.9,218.0 340.2,223.5 340.4,225.1 340.7,225.1 340.9,224.9 341.2,216.3 341.4,225.5 341.7,222.0 341.9,226.3 342.2,215.1 342.4,222.1 342.7,218.4 342.9,219.6 343.2,222.4 343.4,221.8 343.7,223.5 343.9,219.7 344.2,219.3 344.4,217.6 344.7,212.1 344.9,218.3 345.2,211.6 345.4,211.7 345.7,213.7 345.9,209.7 346.2,209.5 346.4,203.2 346.7,206.8 346.9,205.4 347.2,205.8 347.4,208.0 347.7,205.6 347.9,205.4 348.2,205.5 348.4,207.1 348.7,206.8 348.9,204.8 349.2,202.2 349.4,204.9 349.7,201.9 349.9,201.6 350.2,202.2 350.4,200.1 350.7,198.4 350.9,197.7 351.2,198.8 351.4,199.0 351.7,198.9 351.9,195.5 352.2,196.5 352.4,195.3 352.7,193.7 352.9,197.7 353.2,191.6 353.4,190.7 353.7,191.3 353.9,192.5 354.2,189.1 354.4,190.7 354.7,185.3 354.9,187.0 355.2,186.6 355.4,185.8 355.7,185.5 355.9,184.7 356.2,183.9 356.4,182.3 356.7,183.2 356.9,182.1 357.2,181.6 357.4,181.8 357.7,180.4 357.9,179.5 358.2,179.9 358.4,177.9 358.7,176.6 358.9,176.8 359.2,175.9 359.4,176.1 359.7,175.6 359.9,175.2 360.2,174.9 360.4,174.6 360.7,174.0 360.9,173.3 361.2,172.7 361.4,172.3 361.7,172.2 361.9,171.8 362.2,171.0 362.4,171.1 362.7,170.3 362.9,166.9 363.2,163.5 363.4,160.8 363.7,157.8 363.9,161.1 364.2,166.1 364.4,170.0 364.7,173.3 364.9,177.7 365.2,180.7 365.4,184.7 365.7,184.3 365.9,186.6 366.2,187.6 366.4,188.5 366.7,188.7 366.9,187.9 367.2,189.3 367.4,192.2 367.7,191.7 367.9,198.0 368.2,195.7 368.4,193.7 368.7,194.9 368.9,189.4 369.2,196.7 369.4,197.9 369.7,195.3 369.9,195.8 370.2,196.6 370.4,199.4 370.7,200.5 370.9,197.3 371.2,199.0 371.4,201.3 371.7,201.3 371.9,200.8 372.2,203.1 372.5,200.8 372.7,200.1 373.0,205.1 373.2,206.0 373.5,207.8 373.7,204.9 374.0,204.3 374.2,206.6 374.5,206.6 374.7,207.1 375.0,207.1 375.2,210.6 375.5,208.5 375.7,211.2 376.0,206.6 376.2,205.1 376.5,208.6 376.7,202.8 377.0,202.0 377.2,201.1 377.5,198.7 377.7,202.3 378.0,203.6 378.2,199.5 378.5,197.8 378.7,193.7 379.0,190.8 379.2,190.9 379.5,188.2 379.7,187.3 380.0,187.8 380.2,190.0 380.5,188.7 380.7,187.5 381.0,186.0 381.2,185.8 381.5,187.1 381.7,186.2 382.0,184.9 382.2,186.9 382.5,184.3 382.7,182.9 383.0,184.0 383.2,185.1 383.5,184.3 383.7,184.1 384.0,182.4 384.2,184.1 384.5,184.2 384.7,184.2 385.0,183.5 385.2,186.7 385.5,185.7 385.7,184.5 386.0,187.3 386.2,190.0 386.5,185.3 386.7,187.9 387.0,190.3 387.2,190.5 387.5,186.7 387.7,187.5 388.0,185.5 388.2,188.2 388.5,186.2 388.7,186.9 389.0,192.4 389.2,186.9 389.5,186.1 389.7,188.6 390.0,189.0 390.2,189.1 390.5,190.4 390.7,188.0 391.0,188.8 391.2,189.8 391.5,188.3 391.7,190.7 392.0,190.1 392.2,188.8 392.5,188.4 392.7,188.7 393.0,189.0 393.2,185.9 393.5,186.7 393.7,187.3 394.0,187.1 394.2,187.4 394.5,187.3 394.7,188.2 395.0,187.6 395.2,188.5 395.5,188.6 395.7,188.2 396.0,187.8 396.2,186.2 396.5,189.6 396.7,188.0 397.0,189.0 397.2,189.9 397.5,189.2 397.7,186.8 398.0,188.0 398.2,191.9 398.5,187.0 398.7,191.0 399.0,187.9 399.2,189.6 399.5,191.1 399.7,188.2 400.0,192.6 400.2,186.6 400.5,189.4 400.7,188.7 401.0,190.1 401.2,190.6 401.5,191.1 401.7,191.0 402.0,188.7 402.2,188.0 402.5,189.8 402.7,188.4 403.0,186.2 403.2,186.0 403.5,188.4 403.7,188.3 404.0,188.6 404.2,189.1 404.5,186.5 404.7,189.1 405.0,187.1 405.2,189.8 405.5,189.3 405.7,191.9 406.0,190.6 406.2,189.7 406.5,190.5 406.7,191.3 407.0,192.4 407.2,193.1 407.5,191.0 407.7,191.1 408.0,194.3 408.2,193.5 408.5,195.6 408.7,195.1 409.0,197.4 409.2,196.3 409.5,190.8 409.7,195.6 410.0,197.9 410.2,195.6 410.5,198.1 410.7,199.9 411.0,201.4 411.2,201.5 411.5,197.4 411.7,203.3 412.0,199.7 412.2,202.3 412.5,201.0 412.7,205.3 413.0,203.7 413.2,205.0 413.5,206.0 413.7,205.5 414.0,203.7 414.2,207.4 414.5,204.7 414.7,204.2 415.0,198.2 415.2,196.9 415.5,203.2 415.7,200.5 416.0,195.1 416.2,198.2 416.5,196.7 416.7,194.1 417.0,194.2 417.2,197.1 417.5,192.4 417.7,193.6 418.0,191.0 418.2,186.7 418.5,194.4 418.7,191.2 419.0,188.9 419.2,188.4 419.5,187.9 419.7,186.2 420.0,187.5 420.2,187.8 420.5,185.1 420.7,184.9 421.0,183.8 421.2,186.5 421.5,184.4 421.7,187.6 422.0,190.5 422.2,188.2 422.5,193.9 422.7,187.1 423.0,191.3 423.2,192.4 423.5,194.6 423.7,195.9 424.0,195.1 424.2,193.8 424.5,200.6 424.8,200.8 425.0,202.8 425.3,199.4 425.5,204.5 425.8,202.6 426.0,204.4 426.3,205.3 426.5,199.6 426.8,200.5 427.0,200.2 427.3,198.1 427.5,200.1 427.8,199.4 428.0,196.3 428.3,195.9 428.5,197.3 428.8,193.2 429.0,196.3 429.3,196.8 429.5,196.4 429.8,193.1 430.0,197.0 430.3,197.1 430.5,191.7 430.8,195.7 431.0,194.7 431.3,193.6 431.5,190.8 431.8,193.0 432.0,189.6 432.3,190.8 432.5,191.7 432.8,191.0 433.0,189.7 433.3,190.3 433.5,189.4 433.8,189.7 434.0,188.0 434.3,187.3 434.5,187.8 434.8,186.7 435.0,189.5 435.3,191.2 435.5,188.4 435.8,188.8 436.0,185.7 436.3,186.6 436.5,185.2 436.8,187.1 437.0,186.2 437.3,184.6 437.5,187.2 437.8,185.2 438.0,186.0 438.3,187.0 438.5,188.5 438.8,189.2 439.0,188.5 439.3,188.9 439.5,189.2 439.8,189.4 440.0,194.2 440.3,191.7 440.5,195.5 440.8,192.8 441.0,193.8 441.3,197.3 441.5,196.2 441.8,195.9 442.0,200.9 442.3,196.5 442.5,198.1 442.8,201.7 443.0,204.1 443.3,201.9 443.5,201.0 443.8,208.2 444.0,203.9 444.3,202.9 444.5,204.8 444.8,207.5 445.0,199.0 445.3,203.2 445.5,209.0 445.8,207.5 446.0,206.7 446.3,206.6 446.5,208.7 446.8,210.2 447.0,206.6 447.3,207.3 447.5,210.6 447.8,208.2 448.0,206.0 448.3,209.2 448.5,207.2 448.8,212.0 449.0,213.1 449.3,209.4 449.5,211.1 449.8,211.7 450.0,212.7 450.3,210.8 450.5,207.8 450.8,206.8 451.0,207.7 451.3,204.9 451.5,203.4 451.8,199.0 452.0,200.3 452.3,200.0 452.5,198.6 452.8,195.9 453.0,193.8 453.3,197.1 453.5,196.4 453.8,194.8 454.0,190.9 454.3,192.4 454.5,192.2 454.8,192.6 455.0,190.9 455.3,188.9 455.5,189.2 455.8,188.8 456.0,193.5 456.3,190.5 456.5,194.1 456.8,193.0 457.0,195.8 457.3,192.0 457.5,195.3 457.8,193.3 458.0,193.9 458.3,195.2 458.5,195.3 458.8,197.1 459.0,199.3 459.3,207.4 459.5,201.2 459.8,200.0 460.0,205.5 460.3,208.0 460.5,200.1 460.8,207.6 461.0,204.1 461.3,203.7 461.5,210.4 461.8,213.3 462.0,215.2 462.3,211.3 462.5,211.0 462.8,213.3 463.0,215.3 463.3,217.1 463.5,219.4 463.8,217.4 464.0,218.8 464.3,218.5 464.5,216.1 464.8,223.2 465.0,225.2 465.3,223.6 465.5,214.0 465.8,228.3 466.0,219.1 466.3,230.2 466.5,229.2 466.8,223.5 467.0,227.2 467.3,214.7 467.5,219.2 467.8,217.1 468.0,220.3 468.3,218.9 468.5,219.1 468.8,218.3 469.0,222.3 469.3,217.5 469.5,216.3 469.8,218.4 470.0,220.0 470.3,220.2 470.5,215.6 470.8,217.7 471.0,218.6 471.3,216.7 471.5,214.6 471.8,218.4 472.0,212.1 472.3,220.1 472.5,216.8 472.8,218.5 473.0,220.3 473.3,226.9 473.5,226.3 473.8,226.4 474.0,218.4 474.3,215.7 474.5,219.4 474.8,212.7 475.0,214.9 475.3,209.3 475.5,213.7 475.8,215.3 476.0,209.3 476.3,212.4 476.5,211.5 476.8,210.8 477.0,210.8 477.3,207.8"/>
<polyline fill="none" stroke="#000" stroke-width="2.5" stroke-linejoin="round" points="108.7,294.7 109.0,293.1 109.2,295.3 109.5,294.4 109.7,291.7 110.0,296.4 110.2,294.5 110.5,295.9 110.7,298.2 111.0,295.6 111.2,293.3 111.5,294.1 111.7,297.3 112.0,289.7 112.2,296.1 112.5,296.5 112.7,293.8 113.0,296.3 113.2,297.2 113.5,294.8 113.7,295.5 114.0,298.7 114.2,294.2 114.5,295.1 114.7,298.7 115.0,297.1 115.2,294.4 115.5,297.2 115.7,301.0 116.0,294.5 116.2,299.0 116.5,299.0 116.7,297.3 117.0,299.0 117.2,296.6 117.5,301.0 117.7,301.4 118.0,296.5 118.2,297.9 118.5,298.6 118.7,297.2 119.0,299.3 119.2,296.6 119.5,299.9 119.7,298.3 120.0,298.9 120.2,300.0 120.5,301.0 120.7,297.2 121.0,300.9 121.2,301.1 121.5,299.2 121.7,302.6 122.0,298.0 122.2,298.5 122.5,300.5 122.7,298.4 123.0,302.8 123.2,300.4 123.5,303.6 123.7,297.9 124.0,298.2 124.2,303.1 124.5,298.1 124.7,302.7 125.0,298.8 125.2,301.1 125.5,303.1 125.7,300.6 126.0,298.4 126.2,299.8 126.5,303.4 126.7,301.4 127.0,302.6 127.2,301.4 127.5,301.9 127.7,300.9 128.0,299.2 128.2,302.6 128.5,301.9 128.7,297.3 129.0,301.7 129.2,303.9 129.5,306.1 129.7,298.9 130.0,302.2 130.2,303.3 130.5,303.8 130.7,300.7 131.0,303.4 131.2,301.4 131.5,302.3 131.7,301.3 132.0,303.3 132.2,301.8 132.5,303.4 132.7,302.6 133.0,305.0 133.2,306.8 133.5,302.7 133.7,301.4 134.0,302.7 134.2,302.1 134.5,299.5 134.7,303.5 135.0,302.4 135.2,305.7 135.5,303.3 135.7,305.9 136.0,305.6 136.2,302.7 136.5,303.2 136.7,302.8 137.0,303.0 137.2,306.1 137.5,303.0 137.7,303.3 138.0,302.5 138.2,307.8 138.5,303.7 138.7,304.2 139.0,302.6 139.2,305.3 139.5,302.9 139.7,303.3 140.0,300.0 140.2,301.0 140.5,305.5 140.7,307.0 141.0,301.1 141.2,306.1 141.5,305.8 141.7,312.8 142.0,303.0 142.2,303.9 142.5,303.0 142.7,307.7 143.0,308.3 143.2,305.1 143.5,309.6 143.7,311.1 144.0,304.8 144.2,307.4 144.5,305.6 144.7,304.5 145.0,305.0 145.2,305.7 145.5,303.1 145.7,306.2 146.0,308.5 146.2,304.1 146.5,305.3 146.7,304.3 147.0,307.7 147.2,306.5 147.5,309.2 147.7,306.1 148.0,303.2 148.2,308.3 148.5,306.0 148.7,309.5 149.0,308.3 149.2,299.7 149.5,301.3 149.7,306.2 150.0,304.1 150.2,300.3 150.5,304.4 150.7,308.8 151.0,307.0 151.2,303.2 151.5,305.9 151.7,307.6 152.0,304.5 152.2,309.0 152.5,302.8 152.7,309.2 153.0,307.5 153.2,304.9 153.5,303.9 153.7,303.3 154.0,298.2 154.2,304.8 154.5,305.2 154.7,303.8 155.0,303.2 155.2,301.8 155.5,299.3 155.7,299.6 156.0,297.7 156.2,302.7 156.5,298.3 156.7,301.8 157.0,299.0 157.2,303.8 157.5,304.5 157.7,304.9 158.0,304.4 158.2,301.6 158.5,302.0 158.7,301.4 159.0,304.2 159.2,307.7 159.5,301.6 159.7,312.2 160.0,303.6 160.2,302.4 160.5,306.5 160.7,308.6 161.0,305.4 161.2,304.0 161.5,311.5 161.7,304.4 162.0,310.2 162.2,308.4 162.5,307.3 162.7,308.8 163.0,306.0 163.2,306.0 163.5,310.0 163.7,306.3 164.0,307.1 164.2,313.3 164.5,314.4 164.7,312.6 165.0,315.0 165.2,308.9 165.5,310.0 165.7,307.7 166.0,301.9 166.2,310.5 166.5,310.6 166.7,312.8 167.0,306.7 167.2,313.5 167.5,308.7 167.7,306.8 168.0,309.7 168.2,313.1 168.5,310.5 168.7,311.9 169.0,308.1 169.2,312.1 169.5,313.7 169.7,308.3 170.0,312.2 170.2,307.1 170.5,311.8 170.7,306.8 171.0,312.5 171.2,311.4 171.5,308.2 171.7,312.7 172.0,308.8 172.2,312.1 172.5,309.2 172.7,313.6 173.0,310.4 173.2,321.2 173.5,313.7 173.7,314.0 174.0,308.4 174.2,306.2 174.5,310.2 174.7,318.3 175.0,310.0 175.2,316.7 175.5,316.9 175.7,311.3 176.0,312.6 176.2,317.4 176.5,311.7 176.7,312.2 177.0,311.8 177.2,313.9 177.5,313.5 177.7,317.8 178.0,314.8 178.2,317.8 178.5,313.8 178.7,322.2 179.0,313.8 179.2,313.8 179.5,311.8 179.7,308.9 180.0,311.6 180.2,315.2 180.5,311.3 180.7,317.3 181.0,309.4 181.2,309.3 181.5,315.8 181.7,316.1 182.0,311.2 182.3,318.5 182.5,319.5 182.8,316.2 183.0,310.9 183.3,319.3 183.5,314.3 183.8,314.7 184.0,316.9 184.3,313.1 184.5,320.4 184.8,313.4 185.0,319.1 185.3,318.1 185.5,321.3 185.8,317.1 186.0,318.2 186.3,314.0 186.5,314.5 186.8,313.2 187.0,317.7 187.3,313.0 187.5,320.0 187.8,314.7 188.0,311.1 188.3,312.8 188.5,318.7 188.8,311.5 189.0,316.7 189.3,309.7 189.5,316.2 189.8,317.2 190.0,316.3 190.3,316.8 190.5,310.8 190.8,308.4 191.0,309.1 191.3,315.4 191.5,313.6 191.8,314.4 192.0,310.0 192.3,313.7 192.5,306.5 192.8,311.7 193.0,307.3 193.3,308.5 193.5,311.0 193.8,314.1 194.0,307.8 194.3,306.8 194.5,310.7 194.8,309.3 195.0,304.6 195.3,306.9 195.5,305.6 195.8,308.5 196.0,307.2 196.3,307.1 196.5,306.2 196.8,304.6 197.0,308.6 197.3,306.8 197.5,300.1 197.8,304.8 198.0,306.3 198.3,303.8 198.5,303.3 198.8,304.0 199.0,306.3 199.3,303.1 199.5,306.3 199.8,308.6 200.0,307.5 200.3,307.7 200.5,304.9 200.8,308.3 201.0,306.0 201.3,307.7 201.5,302.9 201.8,308.8 202.0,304.4 202.3,305.9 202.5,308.5 202.8,306.0 203.0,304.9 203.3,305.7 203.5,308.8 203.8,308.9 204.0,307.9 204.3,305.3 204.5,306.4 204.8,309.8 205.0,310.6 205.3,307.3 205.5,305.8 205.8,312.3 206.0,314.1 206.3,311.8 206.5,304.7 206.8,317.5 207.0,313.4 207.3,315.2 207.5,307.3 207.8,312.2 208.0,314.3 208.3,316.3 208.5,312.8 208.8,310.9 209.0,310.9 209.3,315.6 209.5,318.3 209.8,318.6 210.0,311.9 210.3,315.9 210.5,318.5 210.8,323.0 211.0,321.7 211.3,321.0 211.5,313.9 211.8,325.1 212.0,320.9 212.3,322.5 212.5,319.3 212.8,320.4 213.0,319.3 213.3,318.4 213.5,315.9 213.8,321.0 214.0,321.0 214.3,314.0 214.5,311.2 214.8,309.4 215.0,308.9 215.3,311.5 215.5,305.5 215.8,312.3 216.0,300.5 216.3,299.7 216.5,299.2 216.8,297.9 217.0,299.0 217.3,300.4 217.5,294.6 217.8,296.2 218.0,297.6 218.3,299.1 218.5,294.8 218.8,295.8 219.0,296.0 219.3,293.5 219.5,293.9 219.8,292.0 220.0,290.8 220.3,289.7 220.5,293.3 220.8,293.2 221.0,291.1 221.3,288.4 221.5,291.9 221.8,290.0 222.0,292.2 222.3,290.0 222.5,288.0 222.8,289.3 223.0,287.5 223.3,292.1 223.5,286.1 223.8,288.7 224.0,289.3 224.3,286.7 224.5,290.7 224.8,291.2 225.0,291.7 225.3,291.9 225.5,290.6 225.8,292.4 226.0,290.4 226.3,291.7 226.5,292.6 226.8,292.9 227.0,294.2 227.3,292.8 227.5,294.3 227.8,294.0 228.0,295.7 228.3,296.8 228.5,295.4 228.8,300.1 229.0,301.7 229.3,299.6 229.5,299.4 229.8,299.1 230.0,301.2 230.3,302.3 230.5,305.5 230.8,305.1 231.0,307.9 231.3,308.3 231.5,306.3 231.8,304.7 232.0,305.7 232.3,306.6 232.5,310.1 232.8,314.1 233.0,308.8 233.3,314.0 233.5,310.9 233.8,314.3 234.0,316.2 234.3,312.1 234.5,309.4 234.8,309.1 235.0,310.3 235.3,305.6 235.5,303.7 235.8,305.2 236.0,307.7 236.3,301.7 236.5,305.0 236.8,303.7 237.0,300.6 237.3,298.7 237.5,296.3 237.8,296.5 238.0,298.4 238.3,299.3 238.5,296.6 238.8,296.5 239.0,296.0 239.3,301.8 239.5,294.5 239.8,294.1 240.0,298.7 240.3,294.5 240.5,298.2 240.8,294.7 241.0,297.9 241.3,301.4 241.5,294.9 241.8,295.6 242.0,293.7 242.3,296.9 242.5,294.6 242.8,293.4 243.0,295.7 243.3,295.4 243.5,294.6 243.8,293.8 244.0,296.6 244.3,294.2 244.5,294.2 244.8,295.8 245.0,297.6 245.3,296.3 245.5,296.3 245.8,295.9 246.0,296.8 246.3,297.5 246.5,303.2 246.8,296.0 247.0,299.1 247.3,300.9 247.5,299.5 247.8,299.5 248.0,304.0 248.3,306.6 248.5,306.7 248.8,304.8 249.0,304.4 249.3,307.8 249.5,302.6 249.8,305.4 250.0,312.2 250.3,310.2 250.5,310.2 250.8,309.9 251.0,310.1 251.3,309.4 251.5,314.4 251.8,316.8 252.0,315.7 252.3,306.6 252.5,319.1 252.8,318.2 253.0,321.0 253.3,314.2 253.5,309.1 253.8,312.4 254.0,314.3 254.3,325.0 254.5,314.8 254.8,315.1 255.0,319.4 255.3,318.2 255.5,317.6 255.8,312.2 256.1,318.7 256.3,313.4 256.6,305.9 256.8,313.2 257.1,305.9 257.3,305.8 257.6,306.7 257.8,304.8 258.1,306.0 258.3,305.0 258.6,304.8 258.8,303.2 259.1,307.4 259.3,302.1 259.6,303.0 259.8,301.9 260.1,302.4 260.3,300.6 260.6,308.2 260.8,302.5 261.1,304.7 261.3,301.8 261.6,299.5 261.8,301.0 262.1,300.5 262.3,299.2 262.6,302.0 262.8,305.2 263.1,302.0 263.3,303.8 263.6,304.2 263.8,297.2 264.1,305.3 264.3,298.3 264.6,305.0 264.8,301.4 265.1,303.7 265.3,305.5 265.6,302.9 265.8,297.2 266.1,296.8 266.3,295.3 266.6,303.1 266.8,301.9 267.1,303.4 267.3,302.6 267.6,304.5 267.8,299.7 268.1,298.2 268.3,300.9 268.6,304.5 268.8,300.6 269.1,297.8 269.3,302.2 269.6,305.5 269.8,305.2 270.1,303.8 270.3,303.8 270.6,300.2 270.8,305.7 271.1,310.9 271.3,305.2 271.6,311.0 271.8,304.0 272.1,306.5 272.3,306.7 272.6,308.2 272.8,303.9 273.1,312.8 273.3,309.2 273.6,304.5 273.8,313.4 274.1,312.6 274.3,308.9 274.6,313.2 274.8,316.9 275.1,317.3 275.3,316.9 275.6,314.1 275.8,318.2 276.1,322.5 276.3,326.3 276.6,321.1 276.8,322.3 277.1,323.3 277.3,319.1 277.6,313.6 277.8,318.6 278.1,320.4 278.3,322.4 278.6,321.8 278.8,319.4 279.1,320.6 279.3,322.3 279.6,320.3 279.8,321.0 280.1,317.7 280.3,322.2 280.6,323.2 280.8,319.3 281.1,316.7 281.3,320.6 281.6,315.1 281.8,316.2 282.1,314.6 282.3,319.7 282.6,313.6 282.8,317.8 283.1,310.3 283.3,323.9 283.6,319.3 283.8,314.2 284.1,314.9 284.3,324.0 284.6,317.3 284.8,311.5 285.1,316.7 285.3,315.3 285.6,320.1 285.8,318.1 286.1,311.8 286.3,318.8 286.6,321.7 286.8,323.5 287.1,319.8 287.3,325.6 287.6,324.3 287.8,321.9 288.1,325.0 288.3,310.7 288.6,324.3 288.8,325.2 289.1,319.2 289.3,322.4 289.6,316.5 289.8,318.0 290.1,317.7 290.3,314.2 290.6,316.9 290.8,311.0 291.1,316.5 291.3,322.6 291.6,322.9 291.8,315.9 292.1,321.4 292.3,316.3 292.6,305.5 292.8,311.6 293.1,312.8 293.3,312.2 293.6,313.6 293.8,308.9 294.1,309.1 294.3,315.9 294.6,309.4 294.8,309.5 295.1,307.7 295.3,309.7 295.6,309.8 295.8,305.7 296.1,310.7 296.3,306.0 296.6,308.5 296.8,306.8 297.1,309.2 297.3,308.2 297.6,308.9 297.8,307.7 298.1,307.0 298.3,307.7 298.6,307.1 298.8,304.9 299.1,303.0 299.3,308.3 299.6,310.2 299.8,304.4 300.1,308.1 300.3,305.2 300.6,307.3 300.8,309.1 301.1,308.9 301.3,306.2 301.6,301.9 301.8,306.3 302.1,306.8 302.3,310.0 302.6,305.1 302.8,306.6 303.1,307.4 303.3,313.9 303.6,303.9 303.8,309.0 304.1,306.7 304.3,305.2 304.6,303.4 304.8,304.9 305.1,310.1 305.3,307.1 305.6,306.4 305.8,308.4 306.1,313.8 306.3,316.7 306.6,313.5 306.8,314.5 307.1,314.5 307.3,311.7 307.6,310.2 307.8,318.4 308.1,314.8 308.3,316.4 308.6,315.1 308.8,319.3 309.1,323.0 309.3,317.1 309.6,319.6 309.8,319.7 310.1,322.4 310.3,320.3 310.6,320.9 310.8,316.0 311.1,321.8 311.3,319.2 311.6,325.4 311.8,322.4 312.1,329.9 312.3,321.1 312.6,320.2 312.8,328.3 313.1,327.7 313.3,320.1 313.6,335.0 313.8,324.9 314.1,329.6 314.3,323.2 314.6,327.1 314.8,328.4 315.1,321.6 315.3,324.5 315.6,326.2 315.8,330.5 316.1,325.9 316.3,327.5 316.6,324.2 316.8,324.5 317.1,323.8 317.3,320.7 317.6,314.1 317.8,314.6 318.1,322.5 318.3,322.8 318.6,321.1 318.8,318.4 319.1,318.6 319.3,315.5 319.6,324.8 319.8,313.7 320.1,326.2 320.3,318.2 320.6,328.8 320.8,321.5 321.1,318.3 321.3,319.9 321.6,317.5 321.8,324.9 322.1,319.0 322.3,319.9 322.6,315.6 322.8,320.9 323.1,313.2 323.3,316.1 323.6,323.0 323.8,310.8 324.1,319.3 324.3,327.3 324.6,318.5 324.8,323.2 325.1,322.0 325.3,318.5 325.6,310.7 325.8,313.7 326.1,313.5 326.3,317.0 326.6,312.8 326.8,310.1 327.1,308.1 327.3,311.7 327.6,313.4 327.8,305.5 328.1,313.3 328.3,315.1 328.6,313.4 328.8,314.2 329.1,313.2 329.4,318.5 329.6,314.0 329.9,320.4 330.1,317.9 330.4,310.1 330.6,315.9 330.9,318.1 331.1,320.2 331.4,317.8 331.6,315.9 331.9,320.6 332.1,323.6 332.4,311.4 332.6,315.8 332.9,324.4 333.1,319.5 333.4,314.9 333.6,325.1 333.9,326.2 334.1,318.2 334.4,322.0 334.6,319.4 334.9,320.9 335.1,323.5 335.4,318.9 335.6,319.9 335.9,319.2 336.1,313.9 336.4,322.7 336.6,324.5 336.9,322.0 337.1,321.8 337.4,325.1 337.6,319.4 337.9,318.2 338.1,324.4 338.4,323.5 338.6,330.1 338.9,317.8 339.1,323.6 339.4,319.5 339.6,333.4 339.9,324.0 340.1,329.2 340.4,318.3 340.6,323.6 340.9,331.1 341.1,327.0 341.4,326.8 341.6,332.1 341.9,329.5 342.1,329.1 342.4,329.3 342.6,323.1 342.9,333.5 343.1,331.1 343.4,326.1 343.6,324.8 343.9,318.5 344.1,321.0 344.4,330.2 344.6,315.9 344.9,322.4 345.1,330.2 345.4,327.4 345.6,324.1 345.9,323.9 346.1,320.6 346.4,322.1 346.6,321.1 346.9,325.7 347.1,323.0 347.4,316.8 347.6,324.1 347.9,321.2 348.1,321.4 348.4,321.0 348.6,318.6 348.9,316.0 349.1,318.8 349.4,317.5 349.6,312.4 349.9,311.9 350.1,312.6 350.4,312.9 350.6,310.8 350.9,301.9 351.1,313.3 351.4,307.7 351.6,306.0 351.9,306.4 352.1,308.3 352.4,307.1 352.6,301.3 352.9,302.9 353.1,302.3 353.4,304.0 353.6,305.9 353.9,303.4 354.1,309.1 354.4,306.0 354.6,310.8 354.9,304.8 355.1,300.0 355.4,304.7 355.6,299.0 355.9,299.8 356.1,302.1 356.4,301.4 356.6,302.4 356.9,299.6 357.1,302.7 357.4,301.9 357.6,300.3 357.9,297.3 358.1,296.7 358.4,298.9 358.6,301.3 358.9,294.4 359.1,292.0 359.4,286.5 359.6,280.6 359.9,280.8 360.1,276.4 360.4,273.2 360.6,274.7 360.9,278.2 361.1,285.0 361.4,285.7 361.6,292.1 361.9,296.7 362.1,297.8 362.4,298.1 362.6,301.2 362.9,298.3 363.1,303.0 363.4,303.7 363.6,301.9 363.9,305.3 364.1,308.9 364.4,313.3 364.6,305.3 364.9,310.0 365.1,310.7 365.4,309.5 365.6,309.4 365.9,313.2 366.1,314.6 366.4,308.7 366.6,318.3 366.9,313.8 367.1,315.2 367.4,311.5 367.6,320.1 367.9,312.1 368.1,315.6 368.4,318.3 368.6,311.0 368.9,317.1 369.1,319.7 369.4,322.0 369.6,317.2 369.9,316.1 370.1,319.3 370.4,318.0 370.6,313.9 370.9,324.2 371.1,316.4 371.4,314.2 371.6,320.6 371.9,319.2 372.1,314.4 372.4,319.3 372.6,314.3 372.9,314.4 373.1,312.6 373.4,318.4 373.6,314.8 373.9,316.8 374.1,310.4 374.4,312.8 374.6,307.5 374.9,307.9 375.1,305.8 375.4,303.5 375.6,297.7 375.9,301.6 376.1,297.7 376.4,305.4 376.6,303.5 376.9,307.2 377.1,303.1 377.4,306.0 377.6,306.9 377.9,310.6 378.1,306.2 378.4,309.2 378.6,305.7 378.9,308.0 379.1,304.6 379.4,304.6 379.6,309.3 379.9,301.2 380.1,300.2 380.4,304.2 380.6,308.4 380.9,306.7 381.1,303.5 381.4,304.5 381.6,303.5 381.9,305.3 382.1,305.9 382.4,300.2 382.6,300.0 382.9,298.2 383.1,300.4 383.4,304.4 383.6,301.9 383.9,299.1 384.1,300.4 384.4,300.7 384.6,303.7 384.9,302.4 385.1,302.2 385.4,303.9 385.6,302.5 385.9,303.7 386.1,299.7 386.4,299.4 386.6,300.6 386.9,305.7 387.1,299.0 387.4,301.8 387.6,302.5 387.9,299.4 388.1,298.8 388.4,305.7 388.6,301.0 388.9,300.6 389.1,302.1 389.4,301.5 389.6,298.3 389.9,297.6 390.1,300.9 390.4,299.7 390.6,301.4 390.9,299.0 391.1,307.1 391.4,302.8 391.6,306.2 391.9,301.0 392.1,301.9 392.4,301.2 392.6,302.6 392.9,303.5 393.1,301.5 393.4,300.4 393.6,301.3 393.9,302.5 394.1,304.8 394.4,299.6 394.6,301.4 394.9,304.1 395.1,306.4 395.4,302.6 395.6,304.5 395.9,303.6 396.1,303.7 396.4,304.8 396.6,303.5 396.9,304.4 397.1,304.5 397.4,309.2 397.6,305.6 397.9,310.0 398.1,305.9 398.4,306.8 398.6,304.6 398.9,307.4 399.1,310.7 399.4,311.5 399.6,304.9 399.9,314.3 400.1,309.0 400.4,309.8 400.6,311.4 400.9,309.2 401.1,307.0 401.4,309.8 401.6,309.0 401.9,315.7 402.1,310.7 402.4,304.5 402.6,315.0 402.9,313.2 403.2,311.6 403.4,306.5 403.7,321.4 403.9,311.6 404.2,311.9 404.4,311.5 404.7,314.1 404.9,313.6 405.2,315.1 405.4,315.8 405.7,314.5 405.9,318.2 406.2,311.5 406.4,321.8 406.7,316.5 406.9,315.7 407.2,321.0 407.4,316.8 407.7,316.9 407.9,314.8 408.2,313.7 408.4,311.7 408.7,312.6 408.9,314.9 409.2,320.1 409.4,316.7 409.7,318.1 409.9,314.1 410.2,312.7 410.4,319.0 410.7,327.8 410.9,315.5 411.2,325.2 411.4,316.1 411.7,316.4 411.9,317.9 412.2,318.7 412.4,325.7 412.7,323.7 412.9,323.8 413.2,321.8 413.4,328.0 413.7,332.0 413.9,326.6 414.2,324.5 414.4,322.4 414.7,325.7 414.9,322.6 415.2,332.1 415.4,322.6 415.7,333.5 415.9,318.2 416.2,325.1 416.4,322.6 416.7,321.9 416.9,319.0 417.2,313.1 417.4,324.3 417.7,309.8 417.9,316.3 418.2,311.1 418.4,307.3 418.7,311.5 418.9,312.3 419.2,310.2 419.4,303.3 419.7,304.5 419.9,309.2 420.2,310.2 420.4,313.2 420.7,311.3 420.9,307.9 421.2,305.7 421.4,316.3 421.7,312.8 421.9,312.4 422.2,320.4 422.4,324.3 422.7,317.2 422.9,319.1 423.2,319.6 423.4,323.7 423.7,319.4 423.9,319.5 424.2,320.5 424.4,316.1 424.7,326.2 424.9,327.3 425.2,321.6 425.4,322.1 425.7,322.0 425.9,320.9 426.2,317.4 426.4,322.4 426.7,325.0 426.9,322.8 427.2,315.0 427.4,318.8 427.7,313.1 427.9,326.6 428.2,311.6 428.4,315.9 428.7,321.2 428.9,309.8 429.2,315.5 429.4,306.0 429.7,317.2 429.9,312.6 430.2,311.7 430.4,310.5 430.7,315.0 430.9,313.7 431.2,315.3 431.4,315.6 431.7,311.2 431.9,313.8 432.2,316.8 432.4,314.3 432.7,313.9 432.9,313.0 433.2,311.2 433.4,312.5 433.7,312.2 433.9,319.6 434.2,311.4 434.4,309.2 434.7,313.2 434.9,311.6 435.2,310.5 435.4,318.0 435.7,312.2 435.9,310.5 436.2,317.0 436.4,319.3 436.7,317.5 436.9,315.4 437.2,314.7 437.4,313.9 437.7,316.4 437.9,313.7 438.2,315.6 438.4,314.1 438.7,315.5 438.9,308.5 439.2,315.4 439.4,314.2 439.7,315.6 439.9,320.2 440.2,313.4 440.4,315.4 440.7,319.8 440.9,320.0 441.2,323.9 441.4,322.4 441.7,315.3 441.9,323.9 442.2,322.3 442.4,324.0 442.7,328.1 442.9,325.2 443.2,324.4 443.4,316.5 443.7,324.1 443.9,329.3 444.2,328.5 444.4,321.9 444.7,321.6 444.9,325.8 445.2,329.4 445.4,325.1 445.7,333.6 445.9,336.9 446.2,324.5 446.4,336.5 446.7,335.7 446.9,319.6 447.2,320.6 447.4,326.0 447.7,326.1 447.9,322.3 448.2,325.2 448.4,327.8 448.7,320.7 448.9,315.0 449.2,322.0 449.4,325.9 449.7,328.2 449.9,326.1 450.2,312.7 450.4,316.3 450.7,319.4 450.9,316.9 451.2,321.9 451.4,321.1 451.7,322.3 451.9,323.9 452.2,316.3 452.4,324.1 452.7,312.5 452.9,313.4 453.2,313.0 453.4,313.6 453.7,318.8 453.9,322.0 454.2,311.2 454.4,318.5 454.7,319.9 454.9,316.6 455.2,308.8 455.4,316.8 455.7,318.1 455.9,309.2 456.2,313.3 456.4,318.1 456.7,316.2 456.9,319.4 457.2,320.5 457.4,312.5 457.7,313.2 457.9,321.1 458.2,317.3 458.4,322.2 458.7,321.7 458.9,317.0 459.2,324.1 459.4,322.6 459.7,318.7 459.9,319.5 460.2,319.6 460.4,323.3 460.7,326.3 460.9,325.0 461.2,322.5 461.4,318.0 461.7,324.2 461.9,323.8 462.2,321.9 462.4,321.6 462.7,332.0 462.9,332.5 463.2,321.7 463.4,331.9 463.7,330.2 463.9,336.6 464.2,326.9 464.4,334.7 464.7,329.4 464.9,331.4 465.2,333.8 465.4,337.4 465.7,334.8 465.9,328.7 466.2,342.0 466.4,336.2 466.7,335.9 466.9,330.7 467.2,336.5 467.4,343.4 467.7,344.5 467.9,342.0 468.2,337.5 468.4,345.0 468.7,339.4 468.9,346.8 469.2,342.4 469.4,339.4 469.7,348.1 469.9,345.8 470.2,344.5 470.4,338.8 470.7,332.6 470.9,344.1 471.2,338.7 471.4,344.8 471.7,344.2 471.9,332.8 472.2,335.1 472.4,327.6 472.7,335.0 472.9,331.5 473.2,333.8 473.4,330.3 473.7,328.4 473.9,326.0 474.2,325.0 474.4,331.7 474.7,328.3 474.9,333.1 475.2,326.3 475.4,320.1 475.7,318.4 475.9,324.9 476.2,310.6"/>
<polyline fill="none" stroke="#1652dc" stroke-width="2.5" stroke-linejoin="round" points="109.4,407.2 109.7,405.3 109.9,405.8 110.2,407.2 110.4,406.9 110.7,406.6 110.9,405.2 111.2,404.3 111.4,406.7 111.7,405.4 111.9,407.7 112.2,406.8 112.4,405.3 112.7,407.2 112.9,408.1 113.2,407.3 113.4,405.8 113.7,407.7 113.9,408.1 114.2,409.0 114.4,409.0 114.7,406.1 114.9,407.0 115.2,409.2 115.4,405.0 115.7,409.7 115.9,404.9 116.2,407.6 116.4,411.3 116.7,408.5 116.9,408.2 117.2,409.4 117.4,408.7 117.7,407.8 117.9,409.6 118.2,413.4 118.4,411.1 118.7,410.3 118.9,410.0 119.2,411.2 119.4,410.9 119.7,408.1 119.9,410.9 120.2,410.1 120.4,413.5 120.7,409.8 120.9,412.8 121.2,408.0 121.4,411.1 121.7,409.1 121.9,408.8 122.2,412.2 122.4,408.7 122.7,410.5 122.9,409.4 123.2,411.7 123.4,411.5 123.7,406.6 123.9,412.5 124.2,409.9 124.4,415.3 124.7,413.1 124.9,413.3 125.2,406.5 125.4,415.1 125.7,411.6 125.9,408.8 126.2,412.3 126.4,414.4 126.7,408.5 126.9,414.0 127.2,411.2 127.4,410.8 127.7,411.1 127.9,410.3 128.2,412.5 128.4,412.7 128.7,414.4 128.9,415.2 129.2,411.7 129.4,414.7 129.7,410.0 129.9,413.9 130.2,410.3 130.4,411.4 130.7,413.9 130.9,411.2 131.2,413.8 131.4,409.7 131.7,411.4 131.9,415.4 132.2,416.1 132.4,410.5 132.7,416.4 132.9,413.6 133.2,417.9 133.4,412.5 133.7,412.1 133.9,414.0 134.2,411.0 134.4,413.6 134.7,413.3 134.9,416.3 135.2,415.2 135.4,410.9 135.7,407.4 135.9,409.1 136.2,409.2 136.4,409.1 136.7,418.4 136.9,412.0 137.2,416.7 137.4,412.3 137.7,413.1 137.9,410.3 138.2,416.9 138.4,413.3 138.7,417.9 138.9,412.7 139.2,417.1 139.4,417.6 139.7,411.0 139.9,415.4 140.2,412.2 140.4,411.9 140.7,414.8 140.9,416.3 141.2,417.5 141.4,413.7 141.7,416.7 141.9,415.7 142.2,414.4 142.4,412.3 142.7,414.5 142.9,421.7 143.2,412.3 143.4,414.0 143.7,412.3 143.9,417.4 144.2,418.3 144.4,417.3 144.7,418.7 144.9,414.1 145.2,418.0 145.4,412.4 145.7,417.7 145.9,417.5 146.2,412.8 146.4,416.3 146.7,411.7 146.9,411.0 147.2,411.0 147.4,411.6 147.7,411.5 147.9,413.8 148.2,418.0 148.4,413.5 148.7,412.1 148.9,415.5 149.2,413.5 149.4,414.2 149.7,414.9 149.9,414.9 150.2,412.4 150.4,413.3 150.7,415.9 150.9,411.9 151.2,413.2 151.4,414.4 151.7,414.6 151.9,412.9 152.2,414.8 152.4,413.5 152.7,410.6 152.9,414.9 153.2,411.5 153.4,420.1 153.7,413.9 153.9,412.6 154.2,415.1 154.4,416.0 154.7,413.3 154.9,408.3 155.2,406.8 155.4,408.7 155.7,410.3 155.9,409.5 156.2,413.6 156.4,407.9 156.7,411.6 156.9,416.7 157.2,414.1 157.4,413.6 157.7,411.8 157.9,411.9 158.2,412.3 158.4,410.8 158.7,408.8 158.9,416.3 159.2,417.7 159.4,412.6 159.7,415.8 159.9,411.4 160.2,415.0 160.4,411.1 160.7,416.3 160.9,414.4 161.2,411.4 161.4,415.6 161.7,418.2 161.9,414.5 162.2,414.3 162.4,414.3 162.7,414.5 162.9,417.0 163.2,417.0 163.4,409.3 163.7,416.7 163.9,413.4 164.2,417.5 164.4,414.7 164.7,415.8 164.9,412.4 165.2,410.5 165.4,413.9 165.7,418.0 165.9,414.9 166.2,414.9 166.4,414.2 166.7,414.6 166.9,411.2 167.2,412.6 167.4,409.4 167.7,412.6 167.9,412.0 168.2,412.7 168.4,414.8 168.7,412.6 168.9,405.6 169.2,418.7 169.4,412.6 169.7,413.8 169.9,410.4 170.2,413.8 170.4,415.2 170.7,408.4 170.9,414.4 171.2,409.7 171.4,410.0 171.7,411.6 171.9,415.8 172.2,407.6 172.4,410.0 172.7,411.4 172.9,412.5 173.2,410.9 173.4,411.9 173.7,408.8 173.9,412.5 174.2,413.0 174.4,408.5 174.7,409.1 174.9,411.4 175.2,411.2 175.4,411.5 175.7,407.9 175.9,409.4 176.2,409.1 176.4,412.7 176.7,409.7 176.9,408.8 177.2,407.9 177.4,409.6 177.7,411.8 177.9,406.3 178.2,409.5 178.4,410.2 178.7,412.9 178.9,410.3 179.2,411.5 179.4,408.8 179.7,406.0 179.9,405.8 180.2,407.0 180.4,408.6 180.7,407.6 180.9,406.1 181.2,411.4 181.4,403.4 181.7,405.8 181.9,412.1 182.2,408.1 182.4,406.2 182.7,405.3 182.9,408.7 183.2,408.4 183.5,408.4 183.7,404.6 184.0,407.0 184.2,406.3 184.5,407.3 184.7,403.7 185.0,407.4 185.2,408.8 185.5,403.8 185.7,407.5 186.0,408.7 186.2,407.3 186.5,405.6 186.7,405.8 187.0,404.6 187.2,405.8 187.5,403.6 187.7,405.3 188.0,403.8 188.2,402.7 188.5,407.2 188.7,401.9 189.0,407.4 189.2,401.2 189.5,405.9 189.7,404.6 190.0,401.8 190.2,403.4 190.5,402.5 190.7,402.5 191.0,405.1 191.2,402.0 191.5,400.8 191.7,405.1 192.0,403.9 192.2,403.3 192.5,402.8 192.7,404.0 193.0,403.4 193.2,402.5 193.5,401.9 193.7,404.1 194.0,404.5 194.2,403.0 194.5,406.3 194.7,402.5 195.0,402.3 195.2,403.9 195.5,402.2 195.7,402.1 196.0,401.2 196.2,402.1 196.5,399.3 196.7,400.4 197.0,399.9 197.2,398.4 197.5,402.3 197.7,400.0 198.0,399.7 198.2,401.1 198.5,399.1 198.7,401.5 199.0,402.0 199.2,398.6 199.5,401.5 199.7,400.3 200.0,401.2 200.2,400.0 200.5,398.7 200.7,397.8 201.0,398.2 201.2,398.8 201.5,400.4 201.7,399.9 202.0,399.4 202.2,400.5 202.5,396.9 202.7,397.5 203.0,396.0 203.2,398.6 203.5,396.7 203.7,397.7 204.0,399.6 204.2,399.1 204.5,401.2 204.7,397.3 205.0,396.7 205.2,397.9 205.5,396.6 205.7,397.4 206.0,397.2 206.2,397.7 206.5,398.5 206.7,398.3 207.0,397.8 207.2,396.6 207.5,397.3 207.7,396.2 208.0,395.6 208.2,395.0 208.5,395.7 208.7,396.6 209.0,396.7 209.2,396.0 209.5,396.4 209.7,395.2 210.0,397.1 210.2,395.6 210.5,395.1 210.7,395.9 211.0,395.1 211.2,395.7 211.5,396.2 211.7,394.2 212.0,394.5 212.2,394.5 212.5,394.6 212.7,396.0 213.0,395.1 213.2,395.3 213.5,392.1 213.7,394.5 214.0,394.2 214.2,394.4 214.5,393.9 214.7,393.3 215.0,394.3 215.2,393.5 215.5,393.5 215.7,393.0 216.0,393.2 216.2,393.7 216.5,393.8 216.7,393.1 217.0,393.1 217.2,392.8 217.5,393.5 217.7,392.5 218.0,392.5 218.2,392.7 218.5,392.2 218.7,392.7 219.0,393.6 219.2,392.3 219.5,393.3 219.7,392.8 220.0,392.2 220.2,392.5 220.5,392.9 220.7,391.2 221.0,392.2 221.2,392.5 221.5,391.1 221.7,392.4 222.0,391.9 222.2,390.8 222.5,391.6 222.7,390.2 223.0,390.3 223.2,390.0 223.5,391.1 223.7,390.6 224.0,390.3 224.2,390.3 224.5,390.5 224.7,390.3 225.0,390.1 225.2,390.4 225.5,389.6 225.7,389.8 226.0,390.8 226.2,390.2 226.5,388.8 226.7,390.8 227.0,389.2 227.2,390.7 227.5,389.6 227.7,390.1 228.0,388.4 228.2,388.9 228.5,388.9 228.7,388.8 229.0,388.6 229.2,388.6 229.5,388.8 229.7,388.5 230.0,388.6 230.2,388.8 230.5,387.5 230.7,388.3 231.0,387.8 231.2,388.2 231.5,388.4 231.7,387.3 232.0,387.7 232.2,388.3 232.5,388.3 232.7,387.4 233.0,388.0 233.2,387.6 233.5,387.4 233.7,387.0 234.0,387.3 234.2,387.4 234.5,386.6 234.7,387.1 235.0,386.2 235.2,386.1 235.5,386.8 235.7,386.4 236.0,386.0 236.2,386.4 236.5,386.5 236.7,386.1 237.0,386.7 237.2,385.6 237.5,385.5 237.7,386.1 238.0,385.1 238.2,385.8 238.5,383.9 238.7,384.9 239.0,385.1 239.2,384.9 239.5,385.7 239.7,384.5 240.0,384.8 240.2,384.8 240.5,384.6 240.7,385.0 241.0,384.2 241.2,384.2 241.5,384.0 241.7,384.8 242.0,384.5 242.2,384.5 242.5,384.4 242.7,383.8 243.0,384.5 243.2,384.4 243.5,384.9 243.7,384.4 244.0,383.9 244.2,384.1 244.5,384.9 244.7,383.6 245.0,383.5 245.2,384.2 245.5,384.7 245.7,384.1 246.0,383.5 246.2,384.9 246.5,383.7 246.7,384.3 247.0,384.5 247.2,383.9 247.5,384.1 247.7,384.5 248.0,383.3 248.2,384.1 248.5,384.3 248.7,384.3 249.0,383.6 249.2,383.9 249.5,383.5 249.7,383.4 250.0,383.3 250.2,383.9 250.5,383.7 250.7,384.0 251.0,382.6 251.2,383.2 251.5,383.6 251.7,384.3 252.0,383.5 252.2,383.2 252.5,383.8 252.7,384.1 253.0,384.6 253.2,384.9 253.5,384.8 253.7,384.6 254.0,385.7 254.2,384.6 254.5,385.0 254.7,385.4 255.0,385.0 255.2,385.3 255.5,385.8 255.7,385.2 256.0,385.7 256.2,385.8 256.5,387.1 256.7,386.5 257.0,386.0 257.3,386.9 257.5,386.2 257.8,387.2 258.0,386.3 258.3,387.7 258.5,387.5 258.8,387.1 259.0,388.2 259.3,388.7 259.5,388.6 259.8,388.7 260.0,388.1 260.3,389.5 260.5,387.4 260.8,389.2 261.0,390.9 261.3,389.1 261.5,389.0 261.8,389.8 262.0,390.8 262.3,390.7 262.5,391.6 262.8,391.2 263.0,390.7 263.3,392.2 263.5,391.4 263.8,392.5 264.0,393.2 264.3,392.8 264.5,393.5 264.8,392.0 265.0,392.8 265.3,393.5 265.5,392.8 265.8,394.9 266.0,395.2 266.3,395.4 266.5,395.3 266.8,395.0 267.0,394.5 267.3,395.2 267.5,395.8 267.8,396.5 268.0,396.5 268.3,397.1 268.5,395.9 268.8,396.7 269.0,397.9 269.3,399.0 269.5,396.7 269.8,399.0 270.0,399.7 270.3,399.1 270.5,399.6 270.8,399.4 271.0,400.0 271.3,400.0 271.5,398.9 271.8,402.5 272.0,401.6 272.3,400.9 272.5,403.5 272.8,401.8 273.0,403.2 273.3,400.5 273.5,402.2 273.8,404.6 274.0,405.5 274.3,406.3 274.5,408.4 274.8,406.8 275.0,403.5 275.3,402.7 275.5,401.4 275.8,405.4 276.0,405.1 276.3,408.1 276.5,405.6 276.8,408.9 277.0,403.9 277.3,409.7 277.5,406.9 277.8,409.6 278.0,409.3 278.3,406.2 278.5,409.7 278.8,407.2 279.0,410.2 279.3,409.9 279.5,409.9 279.8,409.0 280.0,409.1 280.3,410.0 280.5,405.4 280.8,412.3 281.0,410.4 281.3,411.2 281.5,409.0 281.8,411.6 282.0,410.2 282.3,414.4 282.5,408.4 282.8,413.9 283.0,409.9 283.3,412.4 283.5,411.2 283.8,409.8 284.0,407.6 284.3,413.5 284.5,408.5 284.8,411.2 285.0,415.1 285.3,415.2 285.5,413.1 285.8,409.1 286.0,412.4 286.3,413.4 286.5,411.2 286.8,415.9 287.0,413.6 287.3,413.9 287.5,413.1 287.8,410.4 288.0,411.4 288.3,411.4 288.5,416.4 288.8,413.9 289.0,414.9 289.3,414.9 289.5,415.0 289.8,417.9 290.0,416.2 290.3,415.1 290.5,414.8 290.8,417.9 291.0,410.6 291.3,417.9 291.5,413.7 291.8,416.1 292.0,414.5 292.3,415.3 292.5,414.7 292.8,407.7 293.0,412.8 293.3,413.6 293.5,412.5 293.8,411.3 294.0,417.0 294.3,413.5 294.5,416.2 294.8,418.8 295.0,413.4 295.3,415.5 295.5,418.6 295.8,415.1 296.0,414.9 296.3,410.7 296.5,418.9 296.8,415.1 297.0,412.5 297.3,417.6 297.5,414.5 297.8,415.3 298.0,413.9 298.3,417.2 298.5,417.0 298.8,414.3 299.0,415.4 299.3,418.9 299.5,415.6 299.8,414.2 300.0,418.5 300.3,413.7 300.5,415.3 300.8,412.3 301.0,413.0 301.3,412.2 301.5,416.3 301.8,417.4 302.0,413.9 302.3,416.6 302.5,414.7 302.8,416.5 303.0,413.0 303.3,415.4 303.5,414.4 303.8,415.0 304.0,420.4 304.3,415.3 304.5,417.9 304.8,417.1 305.0,411.1 305.3,415.5 305.5,417.0 305.8,410.9 306.0,412.6 306.3,421.5 306.5,414.5 306.8,413.2 307.0,414.2 307.3,412.2 307.5,414.3 307.8,414.5 308.0,413.3 308.3,417.0 308.5,417.6 308.8,416.1 309.0,412.0 309.3,412.5 309.5,410.6 309.8,414.4 310.0,412.4 310.3,412.1 310.5,411.8 310.8,413.7 311.0,413.5 311.3,410.6 311.5,416.3 311.8,413.3 312.0,409.9 312.3,414.7 312.5,410.9 312.8,416.6 313.0,415.6 313.3,413.8 313.5,417.6 313.8,410.6 314.0,413.1 314.3,411.8 314.5,410.4 314.8,409.5 315.0,414.5 315.3,411.6 315.5,410.0 315.8,410.9 316.0,418.4 316.3,411.9 316.5,410.3 316.8,411.3 317.0,414.2 317.3,411.4 317.5,411.2 317.8,411.4 318.0,410.5 318.3,411.0 318.5,414.3 318.8,411.0 319.0,411.2 319.3,405.3 319.5,412.7 319.8,413.8 320.0,409.8 320.3,412.1 320.5,408.9 320.8,411.7 321.0,411.8 321.3,404.4 321.5,413.2 321.8,413.6 322.0,410.2 322.3,408.6 322.5,410.7 322.8,410.4 323.0,412.6 323.3,410.5 323.5,410.3 323.8,412.6 324.0,411.8 324.3,410.7 324.5,409.1 324.8,408.9 325.0,409.0 325.3,408.7 325.5,409.5 325.8,412.6 326.0,409.5 326.3,409.7 326.5,406.0 326.8,412.2 327.0,409.3 327.3,411.3 327.5,411.0 327.8,408.6 328.0,410.9 328.3,406.9 328.5,408.4 328.8,412.7 329.0,407.9 329.3,410.5 329.5,409.7 329.8,408.0 330.0,412.5 330.3,409.3 330.6,411.0 330.8,413.5 331.1,406.5 331.3,409.2 331.6,411.1 331.8,409.1 332.1,411.5 332.3,410.4 332.6,409.6 332.8,410.0 333.1,407.5 333.3,406.0 333.6,405.4 333.8,410.1 334.1,406.9 334.3,411.4 334.6,406.4 334.8,405.3 335.1,402.5 335.3,411.3 335.6,408.7 335.8,409.6 336.1,406.1 336.3,411.4 336.6,405.5 336.8,408.3 337.1,407.5 337.3,410.2 337.6,406.1 337.8,407.4 338.1,407.5 338.3,408.0 338.6,408.1 338.8,409.4 339.1,409.7 339.3,407.3 339.6,407.6 339.8,408.2 340.1,408.6 340.3,407.6 340.6,408.7 340.8,408.3 341.1,409.2 341.3,406.5 341.6,408.0 341.8,406.5 342.1,404.3 342.3,406.2 342.6,407.7 342.8,406.5 343.1,405.6 343.3,408.5 343.6,409.4 343.8,408.4 344.1,408.4 344.3,404.8 344.6,408.1 344.8,410.0 345.1,409.3 345.3,407.1 345.6,409.0 345.8,406.5 346.1,405.6 346.3,407.6 346.6,407.5 346.8,405.7 347.1,406.4 347.3,410.8 347.6,405.8 347.8,406.8 348.1,407.1 348.3,408.1 348.6,406.3 348.8,406.9 349.1,408.3 349.3,405.5 349.6,405.2 349.8,403.8 350.1,407.3 350.3,405.3 350.6,405.1 350.8,403.0 351.1,405.2 351.3,404.3 351.6,405.3 351.8,405.1 352.1,405.7 352.3,408.2 352.6,403.8 352.8,405.3 353.1,404.5 353.3,404.4 353.6,405.6 353.8,406.6 354.1,405.4 354.3,405.5 354.6,406.1 354.8,405.3 355.1,404.4 355.3,405.0 355.6,405.1 355.8,402.5 356.1,407.5 356.3,405.0 356.6,405.8 356.8,405.0 357.1,402.8 357.3,403.6 357.6,404.5 357.8,402.7 358.1,406.1 358.3,402.6 358.6,406.7 358.8,404.7 359.1,405.0 359.3,402.4 359.6,403.6 359.8,403.4 360.1,405.8 360.3,406.5 360.6,406.2 360.8,400.3 361.1,403.6 361.3,401.7 361.6,403.2 361.8,402.7 362.1,397.8 362.3,393.3 362.6,389.3 362.8,384.5 363.1,390.2 363.3,396.6 363.6,401.2 363.8,404.1 364.1,402.9 364.3,404.8 364.6,398.8 364.8,404.0 365.1,403.1 365.3,401.8 365.6,402.4 365.8,403.9 366.1,404.7 366.3,403.2 366.6,403.5 366.8,403.1 367.1,402.9 367.3,406.2 367.6,404.5 367.8,405.6 368.1,402.9 368.3,403.9 368.6,403.2 368.8,404.6 369.1,403.5 369.3,405.2 369.6,403.3 369.8,402.5 370.1,401.6 370.3,402.1 370.6,403.7 370.8,402.1 371.1,402.7 371.3,403.6 371.6,404.1 371.8,401.1 372.1,402.0 372.3,400.7 372.6,402.4 372.8,402.1 373.1,402.3 373.3,400.4 373.6,401.4 373.8,399.8 374.1,402.6 374.3,401.1 374.6,400.9 374.8,401.9 375.1,402.3 375.3,400.8 375.6,401.4 375.8,401.7 376.1,400.9 376.3,400.1 376.6,400.3 376.8,401.9 377.1,401.3 377.3,399.7 377.6,400.4 377.8,401.8 378.1,401.0 378.3,400.1 378.6,399.6 378.8,401.2 379.1,402.9 379.3,400.8 379.6,400.0 379.8,400.0 380.1,402.1 380.3,398.7 380.6,400.4 380.8,400.8 381.1,400.2 381.3,403.3 381.6,401.2 381.8,401.1 382.1,402.1 382.3,400.9 382.6,399.0 382.8,401.2 383.1,400.4 383.3,400.3 383.6,402.4 383.8,399.9 384.1,401.0 384.3,400.9 384.6,401.3 384.8,403.3 385.1,399.9 385.3,400.9 385.6,403.7 385.8,401.0 386.1,400.1 386.3,400.4 386.6,402.3 386.8,399.5 387.1,402.9 387.3,403.1 387.6,401.1 387.8,401.4 388.1,401.5 388.3,400.6 388.6,401.4 388.8,398.6 389.1,399.1 389.3,399.9 389.6,400.1 389.8,401.5 390.1,401.2 390.3,401.9 390.6,401.0 390.8,401.1 391.1,401.7 391.3,400.3 391.6,400.3 391.8,400.7 392.1,399.8 392.3,400.9 392.6,400.9 392.8,400.4 393.1,399.4 393.3,401.1 393.6,403.2 393.8,403.6 394.1,401.0 394.3,403.4 394.6,402.1 394.8,401.0 395.1,402.0 395.3,401.5 395.6,401.5 395.8,400.8 396.1,402.8 396.3,400.7 396.6,401.9 396.8,403.5 397.1,405.1 397.3,402.8 397.6,403.1 397.8,404.0 398.1,402.9 398.3,404.9 398.6,400.3 398.8,403.8 399.1,402.2 399.3,403.7 399.6,407.1 399.8,403.6 400.1,403.1 400.3,403.9 400.6,403.2 400.8,404.0 401.1,402.4 401.3,403.0 401.6,402.1 401.8,405.0 402.1,403.8 402.3,402.4 402.6,402.6 402.8,404.5 403.1,403.2 403.3,404.8 403.6,406.2 403.8,409.3 404.1,405.2 404.4,407.0 404.6,402.5 404.9,403.9 405.1,405.1 405.4,405.5 405.6,402.6 405.9,406.4 406.1,405.8 406.4,405.8 406.6,405.7 406.9,404.3 407.1,406.5 407.4,405.4 407.6,404.6 407.9,405.9 408.1,403.6 408.4,404.6 408.6,404.6 408.9,405.6 409.1,404.7 409.4,405.6 409.6,403.3 409.9,403.5 410.1,406.0 410.4,405.3 410.6,404.3 410.9,405.9 411.1,406.0 411.4,407.0 411.6,406.2 411.9,404.5 412.1,405.7 412.4,407.3 412.6,406.6 412.9,404.8 413.1,407.6 413.4,404.7 413.6,405.5 413.9,403.1 414.1,406.0 414.4,406.7 414.6,405.6 414.9,405.9 415.1,404.8 415.4,406.8 415.6,405.2 415.9,406.9 416.1,406.7 416.4,406.2 416.6,406.7 416.9,406.6 417.1,406.0 417.4,403.9 417.6,408.9 417.9,410.1 418.1,407.0 418.4,405.5 418.6,407.1 418.9,404.7 419.1,407.8 419.4,409.7 419.6,407.9 419.9,408.1 420.1,404.0 420.4,406.8 420.6,405.3 420.9,410.3 421.1,407.4 421.4,407.2 421.6,408.7 421.9,409.7 422.1,409.0 422.4,406.8 422.6,408.7 422.9,409.1 423.1,407.7 423.4,409.6 423.6,407.2 423.9,409.5 424.1,410.6 424.4,410.6 424.6,407.2 424.9,409.7 425.1,410.5 425.4,410.3 425.6,407.5 425.9,409.2 426.1,409.4 426.4,415.0 426.6,410.8 426.9,409.2 427.1,411.8 427.4,409.3 427.6,409.8 427.9,412.9 428.1,412.4 428.4,410.7 428.6,408.8 428.9,404.6 429.1,410.5 429.4,408.6 429.6,412.5 429.9,412.7 430.1,408.2 430.4,408.2 430.6,409.9 430.9,411.0 431.1,412.6 431.4,408.3 431.6,406.7 431.9,410.2 432.1,409.8 432.4,410.5 432.6,413.5 432.9,409.8 433.1,412.8 433.4,410.4 433.6,411.8 433.9,412.5 434.1,410.7 434.4,407.7 434.6,408.9 434.9,410.5 435.1,407.9 435.4,408.3 435.6,409.9 435.9,409.0 436.1,412.4 436.4,412.4 436.6,406.0 436.9,412.2 437.1,409.6 437.4,410.7 437.6,413.9 437.9,411.4 438.1,410.6 438.4,409.5 438.6,411.5 438.9,412.4 439.1,413.0 439.4,410.4 439.6,415.3 439.9,411.2 440.1,415.1 440.4,411.7 440.6,415.0 440.9,414.9 441.1,410.0 441.4,411.4 441.6,411.3 441.9,413.2 442.1,410.0 442.4,409.4 442.6,418.0 442.9,413.4 443.1,414.3 443.4,412.4 443.6,412.7 443.9,413.6 444.1,413.7 444.4,411.7 444.6,411.5 444.9,415.1 445.1,409.4 445.4,413.7 445.6,412.5 445.9,411.9 446.1,414.2 446.4,411.6 446.6,408.1 446.9,414.4 447.1,413.0 447.4,413.4 447.6,415.0 447.9,412.5 448.1,415.5 448.4,412.2 448.6,417.5 448.9,410.3 449.1,412.8 449.4,412.3 449.6,410.2 449.9,410.8 450.1,412.9 450.4,409.2 450.6,412.9 450.9,414.6 451.1,410.6 451.4,411.3 451.6,406.2 451.9,412.1 452.1,412.7 452.4,411.4 452.6,409.4 452.9,413.6 453.1,414.1 453.4,410.7 453.6,412.3 453.9,411.9 454.1,410.0 454.4,413.4 454.6,414.5 454.9,414.2 455.1,409.1 455.4,416.2 455.6,415.7 455.9,412.3 456.1,413.2 456.4,415.9 456.6,412.9 456.9,416.6 457.1,417.6 457.4,414.1 457.6,414.4 457.9,414.5 458.1,417.5 458.4,416.6 458.6,412.5 458.9,411.8 459.1,413.6 459.4,414.4 459.6,412.9 459.9,419.7 460.1,415.7 460.4,417.8 460.6,418.1 460.9,413.8 461.1,420.9 461.4,420.0 461.6,415.8 461.9,414.4 462.1,414.6 462.4,417.9 462.6,415.5 462.9,417.6 463.1,421.4 463.4,417.0 463.6,416.4 463.9,418.5 464.1,418.3 464.4,415.1 464.6,413.3 464.9,417.4 465.1,416.9 465.4,416.8 465.6,418.3 465.9,419.5 466.1,416.3 466.4,420.5 466.6,416.5 466.9,418.4 467.1,419.5 467.4,421.1 467.6,422.5 467.9,420.6 468.1,419.4 468.4,420.8 468.6,420.8 468.9,418.0 469.1,419.7 469.4,418.9 469.6,420.5 469.9,415.3 470.1,415.9 470.4,413.8 470.6,421.9 470.9,418.6 471.1,419.7 471.4,414.5 471.6,421.2 471.9,420.4 472.1,423.3 472.4,423.8 472.6,420.8 472.9,420.1 473.1,420.6 473.4,419.5 473.6,419.0 473.9,419.7 474.1,420.3 474.4,417.7 474.6,417.6 474.9,424.7 475.1,418.4 475.4,417.1 475.6,420.9 475.9,417.3 476.1,418.7 476.4,415.8 476.6,419.5 476.9,417.2 477.1,414.2 477.4,420.7 477.6,421.7 477.9,419.1"/>
<polyline fill="none" stroke="#f02b2b" stroke-width="2.5" stroke-linejoin="round" points="109.4,518.0 109.7,513.5 109.9,516.8 110.2,519.0 110.4,515.9 110.7,517.6 110.9,521.5 111.2,516.2 111.4,518.8 111.7,520.3 111.9,518.5 112.2,520.1 112.4,518.0 112.7,517.7 112.9,519.0 113.2,516.6 113.4,520.0 113.7,518.7 113.9,517.0 114.2,520.4 114.4,519.9 114.7,518.6 114.9,518.3 115.2,519.7 115.4,517.2 115.7,517.8 115.9,521.3 116.2,520.1 116.4,521.5 116.7,520.2 116.9,522.4 117.2,518.6 117.4,521.9 117.7,521.7 117.9,522.1 118.2,522.9 118.4,520.2 118.7,520.8 118.9,523.8 119.2,522.9 119.4,522.6 119.7,519.1 119.9,524.1 120.2,522.1 120.4,522.9 120.7,519.0 120.9,522.2 121.2,518.3 121.4,523.0 121.7,522.0 121.9,522.4 122.2,520.7 122.4,522.7 122.7,522.1 122.9,519.8 123.2,523.0 123.4,522.3 123.7,520.4 123.9,524.4 124.2,520.8 124.4,521.8 124.7,520.1 124.9,520.5 125.2,524.0 125.4,527.1 125.7,522.5 125.9,523.2 126.2,523.2 126.4,525.4 126.7,527.7 126.9,524.6 127.2,523.8 127.4,525.7 127.7,525.2 127.9,523.7 128.2,524.3 128.4,522.7 128.7,524.4 128.9,521.9 129.2,526.6 129.4,526.6 129.7,520.8 129.9,520.8 130.2,522.8 130.4,524.0 130.7,526.0 130.9,523.6 131.2,526.0 131.4,521.6 131.7,523.8 131.9,524.0 132.2,522.5 132.4,522.7 132.7,525.4 132.9,524.9 133.2,526.0 133.4,521.0 133.7,527.1 133.9,527.6 134.2,528.1 134.4,524.5 134.7,523.4 134.9,525.6 135.2,524.9 135.4,526.3 135.7,520.7 135.9,524.1 136.2,525.1 136.4,523.0 136.7,523.0 136.9,527.9 137.2,525.7 137.4,523.1 137.7,527.8 137.9,524.2 138.2,523.3 138.4,523.5 138.7,523.9 138.9,525.9 139.2,524.9 139.4,525.9 139.7,524.2 139.9,527.3 140.2,523.8 140.4,525.7 140.7,523.2 140.9,527.0 141.2,526.4 141.4,524.8 141.7,525.6 141.9,524.3 142.2,524.6 142.4,525.8 142.7,527.2 142.9,522.5 143.2,524.8 143.4,526.8 143.7,523.4 143.9,523.2 144.2,527.3 144.4,524.8 144.7,528.9 144.9,527.1 145.2,525.9 145.4,525.5 145.7,525.5 145.9,525.3 146.2,525.0 146.4,520.5 146.7,524.9 146.9,526.4 147.2,524.0 147.4,523.9 147.7,524.6 147.9,528.9 148.2,528.4 148.4,527.1 148.7,525.0 148.9,527.8 149.2,522.9 149.4,527.3 149.7,526.3 149.9,530.2 150.2,527.3 150.4,525.4 150.7,526.6 150.9,523.4 151.2,528.0 151.4,525.5 151.7,527.6 151.9,528.1 152.2,524.3 152.4,528.9 152.7,521.5 152.9,524.1 153.2,527.9 153.4,527.9 153.7,530.0 153.9,526.1 154.2,526.4 154.4,528.1 154.7,525.6 154.9,527.6 155.2,525.6 155.4,525.9 155.7,528.3 155.9,527.8 156.2,525.2 156.4,529.3 156.7,524.3 156.9,527.7 157.2,528.3 157.4,526.1 157.7,524.7 157.9,525.2 158.2,527.4 158.4,530.3 158.7,526.7 158.9,523.7 159.2,526.2 159.4,524.0 159.7,529.6 159.9,528.3 160.2,528.2 160.4,523.4 160.7,524.3 160.9,525.1 161.2,526.9 161.4,527.0 161.7,526.4 161.9,529.3 162.2,525.4 162.4,529.6 162.7,528.6 162.9,525.9 163.2,526.9 163.4,531.2 163.7,528.4 163.9,525.4 164.2,527.5 164.4,527.1 164.7,529.1 164.9,526.6 165.2,529.4 165.4,527.3 165.7,526.8 165.9,529.9 166.2,528.7 166.4,524.7 166.7,528.4 166.9,528.1 167.2,528.8 167.4,530.4 167.7,525.4 167.9,529.4 168.2,527.6 168.4,529.8 168.7,526.6 168.9,528.8 169.2,531.3 169.4,528.4 169.7,529.9 169.9,523.6 170.2,526.3 170.4,526.5 170.7,527.9 170.9,528.0 171.2,529.7 171.4,526.3 171.7,532.1 171.9,532.3 172.2,527.2 172.4,529.9 172.7,532.0 172.9,527.8 173.2,528.9 173.4,530.5 173.7,530.7 173.9,529.0 174.2,528.3 174.4,529.5 174.7,528.3 174.9,530.6 175.2,528.1 175.4,527.7 175.7,526.9 175.9,531.7 176.2,527.6 176.4,526.0 176.7,529.4 176.9,527.3 177.2,529.5 177.4,528.1 177.7,528.6 177.9,528.3 178.2,528.9 178.4,528.0 178.7,526.6 178.9,528.7 179.2,529.2 179.4,525.1 179.7,527.4 179.9,528.8 180.2,529.6 180.4,531.4 180.7,530.0 180.9,529.6 181.2,528.4 181.4,528.9 181.7,528.1 181.9,529.3 182.2,524.4 182.4,527.9 182.7,531.3 182.9,527.0 183.2,525.5 183.5,527.0 183.7,527.8 184.0,530.0 184.2,524.4 184.5,527.6 184.7,530.4 185.0,529.7 185.2,526.5 185.5,530.4 185.7,528.2 186.0,527.8 186.2,528.3 186.5,527.0 186.7,529.6 187.0,529.9 187.2,528.1 187.5,529.0 187.7,527.7 188.0,526.9 188.2,527.7 188.5,526.7 188.7,527.2 189.0,527.0 189.2,529.7 189.5,524.1 189.7,526.2 190.0,528.2 190.2,525.6 190.5,526.4 190.7,526.6 191.0,526.3 191.2,526.7 191.5,525.0 191.7,525.5 192.0,524.3 192.2,525.4 192.5,524.6 192.7,523.2 193.0,525.6 193.2,525.9 193.5,526.0 193.7,525.7 194.0,526.8 194.2,526.0 194.5,525.6 194.7,527.1 195.0,525.4 195.2,523.8 195.5,526.4 195.7,525.2 196.0,522.3 196.2,523.2 196.5,523.0 196.7,525.3 197.0,524.1 197.2,521.3 197.5,522.6 197.7,526.3 198.0,524.2 198.2,524.3 198.5,523.5 198.7,524.1 199.0,525.7 199.2,524.4 199.5,523.1 199.7,523.7 200.0,526.0 200.2,524.4 200.5,523.2 200.7,525.8 201.0,521.5 201.2,519.6 201.5,522.7 201.7,523.3 202.0,523.5 202.2,520.6 202.5,522.8 202.7,522.0 203.0,524.3 203.2,524.1 203.5,522.6 203.7,520.9 204.0,522.9 204.2,522.3 204.5,522.0 204.7,522.3 205.0,523.4 205.2,520.4 205.5,519.7 205.7,521.9 206.0,522.3 206.2,521.6 206.5,518.7 206.7,520.8 207.0,520.2 207.2,520.9 207.5,521.1 207.7,519.2 208.0,519.8 208.2,519.2 208.5,520.0 208.7,521.7 209.0,518.6 209.2,520.7 209.5,520.4 209.7,518.6 210.0,522.3 210.2,516.2 210.5,522.1 210.7,521.3 211.0,519.0 211.2,517.9 211.5,518.1 211.7,517.5 212.0,521.4 212.2,517.3 212.5,519.3 212.7,516.7 213.0,518.7 213.2,519.2 213.5,517.1 213.7,519.8 214.0,518.2 214.2,519.0 214.5,517.9 214.7,516.6 215.0,517.6 215.2,518.3 215.5,518.7 215.7,516.9 216.0,516.3 216.2,517.0 216.5,516.4 216.7,517.0 217.0,516.5 217.2,517.3 217.5,517.5 217.7,515.5 218.0,516.9 218.2,515.9 218.5,517.5 218.7,515.4 219.0,515.1 219.2,514.6 219.5,515.6 219.7,515.8 220.0,513.4 220.2,515.6 220.5,512.7 220.7,515.5 221.0,515.2 221.2,512.8 221.5,516.4 221.7,515.4 222.0,515.4 222.2,515.8 222.5,513.9 222.7,513.1 223.0,516.2 223.2,513.5 223.5,512.2 223.7,512.0 224.0,515.9 224.2,513.8 224.5,514.0 224.7,513.7 225.0,513.8 225.2,515.2 225.5,512.7 225.7,514.0 226.0,513.1 226.2,512.4 226.5,512.0 226.7,512.5 227.0,511.9 227.2,513.3 227.5,513.8 227.7,512.6 228.0,511.6 228.2,510.8 228.5,510.9 228.7,512.5 229.0,512.2 229.2,512.6 229.5,509.5 229.7,511.2 230.0,512.1 230.2,511.3 230.5,510.0 230.7,510.0 231.0,509.4 231.2,509.5 231.5,512.8 231.7,509.4 232.0,511.3 232.2,510.9 232.5,510.3 232.7,509.2 233.0,511.3 233.2,510.3 233.5,510.3 233.7,509.4 234.0,508.1 234.2,509.5 234.5,509.5 234.7,507.9 235.0,508.8 235.2,508.8 235.5,507.6 235.7,508.5 236.0,508.3 236.2,508.5 236.5,508.0 236.7,507.7 237.0,507.7 237.2,507.4 237.5,508.6 237.7,507.8 238.0,507.0 238.2,507.3 238.5,508.0 238.7,508.1 239.0,506.7 239.2,507.6 239.5,507.4 239.7,507.8 240.0,506.3 240.2,507.6 240.5,506.5 240.7,506.0 241.0,508.0 241.2,506.8 241.5,506.8 241.7,507.8 242.0,505.2 242.2,505.7 242.5,504.9 242.7,505.8 243.0,507.0 243.2,506.6 243.5,506.3 243.7,505.5 244.0,505.4 244.2,505.5 244.5,507.3 244.7,506.2 245.0,506.6 245.2,505.1 245.5,506.6 245.7,505.4 246.0,506.3 246.2,506.9 246.5,506.8 246.7,507.0 247.0,506.2 247.2,506.2 247.5,507.0 247.7,507.6 248.0,506.8 248.2,507.0 248.5,507.1 248.7,506.8 249.0,507.2 249.2,506.8 249.5,507.1 249.7,507.7 250.0,506.6 250.2,507.3 250.5,507.4 250.7,507.5 251.0,507.2 251.2,507.7 251.5,508.1 251.7,508.4 252.0,506.5 252.2,508.1 252.5,507.6 252.7,508.9 253.0,507.3 253.2,507.8 253.5,508.3 253.7,506.8 254.0,509.5 254.2,509.0 254.5,508.1 254.7,507.5 255.0,508.7 255.2,509.0 255.5,509.1 255.7,509.6 256.0,509.6 256.2,509.5 256.5,506.7 256.7,510.2 257.0,509.9 257.3,508.8 257.5,509.5 257.8,510.3 258.0,508.9 258.3,511.5 258.5,510.0 258.8,510.5 259.0,509.9 259.3,511.1 259.5,512.5 259.8,512.4 260.0,511.3 260.3,509.9 260.5,511.2 260.8,511.4 261.0,512.2 261.3,511.4 261.5,514.0 261.8,513.3 262.0,512.8 262.3,513.0 262.5,513.6 262.8,514.5 263.0,512.7 263.3,512.9 263.5,514.2 263.8,514.2 264.0,515.5 264.3,514.8 264.5,516.2 264.8,514.6 265.0,514.2 265.3,515.4 265.5,513.2 265.8,515.3 266.0,517.1 266.3,518.1 266.5,515.2 266.8,516.7 267.0,517.6 267.3,515.1 267.5,518.5 267.8,518.5 268.0,519.2 268.3,519.3 268.5,517.4 268.8,516.8 269.0,519.0 269.3,520.0 269.5,523.4 269.8,517.5 270.0,517.9 270.3,519.7 270.5,519.1 270.8,518.0 271.0,519.0 271.3,523.7 271.5,520.6 271.8,521.9 272.0,521.2 272.3,524.8 272.5,520.7 272.8,522.6 273.0,521.1 273.3,520.7 273.5,520.7 273.8,520.6 274.0,521.7 274.3,521.9 274.5,521.2 274.8,521.9 275.0,524.1 275.3,521.8 275.5,525.6 275.8,525.3 276.0,524.3 276.3,524.0 276.5,526.8 276.8,529.7 277.0,528.4 277.3,527.8 277.5,525.8 277.8,523.8 278.0,525.0 278.3,522.8 278.5,525.6 278.8,525.9 279.0,527.7 279.3,525.7 279.5,528.7 279.8,528.4 280.0,526.8 280.3,527.6 280.5,527.2 280.8,527.7 281.0,527.2 281.3,526.6 281.5,527.4 281.8,529.7 282.0,527.1 282.3,527.4 282.5,529.0 282.8,533.2 283.0,530.8 283.3,529.8 283.5,531.8 283.8,531.1 284.0,525.4 284.3,530.9 284.5,532.2 284.8,533.1 285.0,532.7 285.3,534.9 285.5,528.1 285.8,530.7 286.0,532.0 286.3,535.6 286.5,530.7 286.8,534.2 287.0,534.7 287.3,536.2 287.5,534.5 287.8,536.1 288.0,533.9 288.3,531.2 288.5,530.6 288.8,535.0 289.0,531.2 289.3,537.8 289.5,536.3 289.8,535.2 290.0,533.8 290.3,534.6 290.5,536.9 290.8,535.8 291.0,532.7 291.3,538.8 291.5,535.2 291.8,534.5 292.0,535.9 292.3,535.7 292.5,539.5 292.8,536.7 293.0,535.5 293.3,536.6 293.5,537.3 293.8,534.4 294.0,533.1 294.3,535.7 294.5,537.3 294.8,533.2 295.0,533.4 295.3,535.9 295.5,537.3 295.8,538.1 296.0,534.5 296.3,538.7 296.5,532.7 296.8,535.8 297.0,536.2 297.3,541.3 297.5,538.5 297.8,533.5 298.0,538.0 298.3,535.6 298.5,536.3 298.8,538.7 299.0,535.5 299.3,533.6 299.5,535.7 299.8,536.6 300.0,535.8 300.3,533.8 300.5,534.8 300.8,535.1 301.0,535.4 301.3,537.2 301.5,538.0 301.8,534.7 302.0,532.6 302.3,536.3 302.5,533.5 302.8,538.2 303.0,535.8 303.3,536.4 303.5,529.8 303.8,534.4 304.0,536.2 304.3,531.5 304.5,534.3 304.8,537.1 305.0,535.8 305.3,532.0 305.5,536.2 305.8,535.8 306.0,537.2 306.3,534.7 306.5,535.0 306.8,533.3 307.0,532.4 307.3,530.0 307.5,534.7 307.8,534.2 308.0,533.3 308.3,534.4 308.5,534.6 308.8,531.6 309.0,533.1 309.3,534.3 309.5,536.4 309.8,532.4 310.0,533.4 310.3,531.7 310.5,531.6 310.8,535.5 311.0,527.8 311.3,534.8 311.5,531.1 311.8,531.6 312.0,532.5 312.3,532.7 312.5,533.7 312.8,534.3 313.0,534.4 313.3,528.9 313.5,532.0 313.8,532.6 314.0,532.7 314.3,528.8 314.5,534.7 314.8,535.7 315.0,531.4 315.3,537.4 315.5,529.3 315.8,530.8 316.0,530.9 316.3,533.6 316.5,529.8 316.8,529.8 317.0,533.2 317.3,530.5 317.5,532.7 317.8,533.5 318.0,530.2 318.3,528.8 318.5,529.7 318.8,531.5 319.0,532.7 319.3,531.1 319.5,528.1 319.8,530.9 320.0,533.7 320.3,533.4 320.5,529.0 320.8,530.8 321.0,531.0 321.3,524.0 321.5,531.9 321.8,526.8 322.0,527.0 322.3,528.3 322.5,527.1 322.8,530.1 323.0,530.5 323.3,528.6 323.5,529.1 323.8,531.1 324.0,530.8 324.3,533.6 324.5,532.2 324.8,526.2 325.0,529.0 325.3,527.9 325.5,526.9 325.8,531.4 326.0,529.4 326.3,527.1 326.5,535.4 326.8,532.2 327.0,528.8 327.3,530.4 327.5,528.2 327.8,529.2 328.0,526.2 328.3,528.4 328.5,529.5 328.8,527.6 329.0,534.9 329.3,527.1 329.5,529.5 329.8,529.3 330.0,525.9 330.3,531.0 330.6,529.1 330.8,530.7 331.1,529.1 331.3,529.3 331.6,531.9 331.8,528.6 332.1,529.2 332.3,527.5 332.6,529.0 332.8,528.2 333.1,528.4 333.3,530.8 333.6,526.3 333.8,528.4 334.1,527.6 334.3,532.7 334.6,528.2 334.8,527.5 335.1,528.4 335.3,525.4 335.6,530.8 335.8,526.3 336.1,526.4 336.3,529.1 336.6,525.8 336.8,530.4 337.1,528.3 337.3,530.4 337.6,524.5 337.8,527.4 338.1,529.7 338.3,526.4 338.6,530.8 338.8,528.1 339.1,527.3 339.3,528.1 339.6,529.3 339.8,527.7 340.1,527.7 340.3,527.1 340.6,528.6 340.8,527.7 341.1,527.5 341.3,529.7 341.6,527.1 341.8,525.7 342.1,526.6 342.3,526.5 342.6,526.0 342.8,528.6 343.1,527.4 343.3,527.6 343.6,529.9 343.8,528.6 344.1,527.8 344.3,526.7 344.6,529.1 344.8,526.6 345.1,529.8 345.3,529.2 345.6,526.8 345.8,528.4 346.1,528.6 346.3,527.3 346.6,528.0 346.8,529.5 347.1,524.2 347.3,527.7 347.6,528.0 347.8,527.9 348.1,525.9 348.3,526.6 348.6,526.8 348.8,530.3 349.1,525.8 349.3,530.2 349.6,529.0 349.8,527.0 350.1,530.5 350.3,526.6 350.6,525.6 350.8,526.2 351.1,527.4 351.3,528.5 351.6,522.8 351.8,525.2 352.1,528.8 352.3,529.3 352.6,525.7 352.8,524.6 353.1,523.7 353.3,525.0 353.6,528.1 353.8,525.7 354.1,528.8 354.3,526.9 354.6,524.5 354.8,528.4 355.1,526.9 355.3,526.8 355.6,528.0 355.8,525.7 356.1,532.0 356.3,524.5 356.6,526.4 356.8,526.6 357.1,529.9 357.3,527.3 357.6,525.0 357.8,528.5 358.1,526.3 358.3,526.5 358.6,525.4 358.8,528.9 359.1,527.5 359.3,525.7 359.6,526.1 359.8,528.3 360.1,524.3 360.3,528.4 360.6,523.3 360.8,527.4 361.1,525.9 361.3,527.1 361.6,525.8 361.8,529.2 362.1,525.1 362.3,524.3 362.6,525.1 362.8,523.2 363.1,519.3 363.3,523.4 363.6,523.7 363.8,521.9 364.1,524.1 364.3,522.5 364.6,524.7 364.8,514.6 365.1,502.8 365.3,494.1 365.6,497.5 365.8,505.9 366.1,517.0 366.3,518.9 366.6,519.8 366.8,520.7 367.1,523.8 367.3,520.1 367.6,522.7 367.8,521.7 368.1,521.9 368.3,519.9 368.6,527.0 368.8,519.7 369.1,521.6 369.3,524.1 369.6,521.8 369.8,522.6 370.1,521.0 370.3,523.0 370.6,522.8 370.8,522.7 371.1,520.9 371.3,520.9 371.6,520.9 371.8,517.5 372.1,520.7 372.3,523.7 372.6,519.4 372.8,524.0 373.1,521.0 373.3,520.8 373.6,518.8 373.8,522.7 374.1,519.7 374.3,520.9 374.6,521.6 374.8,522.3 375.1,521.0 375.3,520.7 375.6,520.1 375.8,524.4 376.1,518.3 376.3,519.8 376.6,519.6 376.8,520.5 377.1,520.3 377.3,520.4 377.6,516.5 377.8,514.6 378.1,513.7 378.3,512.8 378.6,512.8 378.8,514.0 379.1,517.3 379.3,518.0 379.6,515.8 379.8,519.4 380.1,517.6 380.3,518.8 380.6,516.8 380.8,515.7 381.1,517.8 381.3,517.9 381.6,518.2 381.8,518.0 382.1,519.7 382.3,518.8 382.6,518.0 382.8,516.9 383.1,515.9 383.3,518.0 383.6,517.2 383.8,517.5 384.1,516.5 384.3,517.3 384.6,517.4 384.8,517.2 385.1,516.9 385.3,516.5 385.6,518.0 385.8,518.0 386.1,516.0 386.3,516.5 386.6,516.7 386.8,516.9 387.1,516.9 387.3,516.5 387.6,515.7 387.8,519.5 388.1,517.2 388.3,517.9 388.6,519.9 388.8,519.1 389.1,520.1 389.3,517.5 389.6,518.8 389.8,520.1 390.1,518.7 390.3,517.9 390.6,519.6 390.8,520.8 391.1,517.0 391.3,520.5 391.6,520.1 391.8,517.9 392.1,518.8 392.3,520.2 392.6,516.9 392.8,519.5 393.1,520.1 393.3,519.4 393.6,519.6 393.8,517.0 394.1,518.0 394.3,519.7 394.6,523.9 394.8,520.5 395.1,521.2 395.3,520.8 395.6,521.8 395.8,519.2 396.1,524.2 396.3,520.2 396.6,518.8 396.8,520.7 397.1,522.0 397.3,521.7 397.6,519.5 397.8,522.2 398.1,521.2 398.3,524.3 398.6,521.6 398.8,524.5 399.1,519.8 399.3,522.5 399.6,525.0 399.8,524.2 400.1,523.7 400.3,522.9 400.6,523.7 400.8,524.4 401.1,520.7 401.3,524.2 401.6,524.3 401.8,522.0 402.1,524.4 402.3,522.0 402.6,522.6 402.8,524.6 403.1,518.5 403.3,522.5 403.6,521.6 403.8,522.8 404.1,521.9 404.4,523.0 404.6,524.0 404.9,524.9 405.1,524.9 405.4,526.4 405.6,526.1 405.9,526.1 406.1,523.8 406.4,524.6 406.6,525.8 406.9,522.1 407.1,522.8 407.4,524.5 407.6,524.3 407.9,525.0 408.1,525.0 408.4,527.9 408.6,524.5 408.9,522.5 409.1,523.1 409.4,523.6 409.6,525.6 409.9,527.1 410.1,526.4 410.4,524.2 410.6,526.7 410.9,528.9 411.1,525.4 411.4,525.7 411.6,527.5 411.9,527.0 412.1,524.4 412.4,521.7 412.6,523.8 412.9,528.6 413.1,524.0 413.4,526.7 413.6,526.5 413.9,525.6 414.1,524.5 414.4,526.0 414.6,525.9 414.9,529.2 415.1,527.3 415.4,531.8 415.6,529.4 415.9,528.0 416.1,524.6 416.4,527.3 416.6,526.3 416.9,527.8 417.1,526.5 417.4,526.6 417.6,533.6 417.9,527.7 418.1,528.2 418.4,527.1 418.6,528.3 418.9,531.4 419.1,526.0 419.4,528.2 419.6,527.5 419.9,529.6 420.1,525.7 420.4,531.1 420.6,529.5 420.9,529.0 421.1,526.7 421.4,528.8 421.6,531.9 421.9,530.0 422.1,527.2 422.4,524.9 422.6,526.4 422.9,531.2 423.1,527.4 423.4,527.9 423.6,529.5 423.9,525.6 424.1,528.9 424.4,530.9 424.6,532.0 424.9,530.4 425.1,528.0 425.4,530.4 425.6,529.3 425.9,529.5 426.1,530.9 426.4,526.7 426.6,527.2 426.9,533.4 427.1,527.7 427.4,529.8 427.6,526.6 427.9,530.1 428.1,531.7 428.4,527.1 428.6,532.6 428.9,529.6 429.1,534.1 429.4,528.3 429.6,531.0 429.9,533.3 430.1,532.9 430.4,533.3 430.6,532.3 430.9,530.8 431.1,532.3 431.4,531.6 431.6,529.7 431.9,532.1 432.1,535.7 432.4,532.7 432.6,525.8 432.9,531.2 433.1,531.3 433.4,531.9 433.6,532.9 433.9,533.7 434.1,533.7 434.4,532.4 434.6,534.4 434.9,530.3 435.1,532.6 435.4,535.6 435.6,533.1 435.9,530.4 436.1,532.5 436.4,532.1 436.6,530.2 436.9,532.5 437.1,533.8 437.4,530.4 437.6,534.0 437.9,527.6 438.1,531.4 438.4,533.6 438.6,533.7 438.9,534.9 439.1,532.5 439.4,531.9 439.6,528.6 439.9,531.9 440.1,531.2 440.4,535.6 440.6,535.0 440.9,534.1 441.1,536.1 441.4,537.2 441.6,535.7 441.9,533.1 442.1,532.4 442.4,536.1 442.6,539.2 442.9,535.7 443.1,533.2 443.4,535.7 443.6,532.7 443.9,530.9 444.1,535.4 444.4,533.5 444.6,538.0 444.9,528.4 445.1,533.6 445.4,535.2 445.6,534.1 445.9,534.9 446.1,537.9 446.4,531.9 446.6,532.4 446.9,532.4 447.1,540.4 447.4,534.3 447.6,535.5 447.9,531.9 448.1,532.7 448.4,534.9 448.6,542.2 448.9,532.0 449.1,533.2 449.4,537.6 449.6,536.7 449.9,528.4 450.1,536.6 450.4,534.0 450.6,536.6 450.9,535.7 451.1,539.3 451.4,536.2 451.6,534.2 451.9,537.5 452.1,532.9 452.4,532.1 452.6,536.8 452.9,533.4 453.1,537.8 453.4,537.1 453.6,536.6 453.9,539.0 454.1,538.5 454.4,537.7 454.6,538.2 454.9,538.0 455.1,537.7 455.4,534.0 455.6,530.2 455.9,532.6 456.1,534.8 456.4,538.4 456.6,533.1 456.9,536.3 457.1,536.7 457.4,537.8 457.6,538.9 457.9,537.2 458.1,537.6 458.4,533.0 458.6,536.2 458.9,536.3 459.1,541.6 459.4,541.0 459.6,540.8 459.9,537.9 460.1,537.2 460.4,535.6 460.6,536.8 460.9,533.5 461.1,535.9 461.4,535.6 461.6,537.1 461.9,545.6 462.1,541.6 462.4,535.5 462.6,541.4 462.9,536.1 463.1,535.0 463.4,538.0 463.6,536.5 463.9,535.1 464.1,536.7 464.4,537.6 464.6,546.0 464.9,535.6 465.1,537.0 465.4,541.4 465.6,536.3 465.9,537.1 466.1,535.6 466.4,537.6 466.6,538.8 466.9,536.1 467.1,541.9 467.4,534.7 467.6,535.5 467.9,537.0 468.1,537.7 468.4,534.4 468.6,536.0 468.9,537.7 469.1,540.4 469.4,539.5 469.6,537.9 469.9,537.8 470.1,542.6 470.4,538.0 470.6,538.8 470.9,538.7 471.1,539.1 471.4,539.4 471.6,538.1 471.9,541.1 472.1,540.5 472.4,539.2 472.6,543.2 472.9,531.9 473.1,538.9 473.4,540.4 473.6,536.6 473.9,539.8 474.1,538.0 474.4,535.7 474.6,540.3 474.9,536.1 475.1,537.0 475.4,537.9 475.6,537.0 475.9,536.8 476.1,537.6 476.4,537.2 476.6,541.3 476.9,538.2 477.1,542.2 477.4,537.6 477.6,541.1 477.9,536.8"/>
<polyline fill="none" stroke="#000" stroke-width="2.5" stroke-linejoin="round" points="109.4,631.9 109.7,629.8 109.9,629.9 110.2,628.8 110.4,628.3 110.7,627.9 110.9,632.3 111.2,633.7 111.4,632.4 111.7,632.1 111.9,632.2 112.2,631.4 112.4,633.8 112.7,630.1 112.9,634.2 113.2,631.6 113.4,631.9 113.7,626.3 113.9,632.4 114.2,637.6 114.4,632.2 114.7,631.5 114.9,633.4 115.2,634.7 115.4,634.9 115.7,631.2 115.9,627.1 116.2,630.5 116.4,632.8 116.7,628.6 116.9,636.6 117.2,631.7 117.4,632.8 117.7,637.0 117.9,631.1 118.2,633.5 118.4,632.0 118.7,635.0 118.9,632.2 119.2,634.4 119.4,632.0 119.7,636.2 119.9,632.8 120.2,631.2 120.4,634.8 120.7,629.4 120.9,638.0 121.2,635.5 121.4,635.3 121.7,634.9 121.9,637.5 122.2,634.9 122.4,634.4 122.7,633.5 122.9,636.1 123.2,638.9 123.4,632.6 123.7,637.2 123.9,635.7 124.2,636.4 124.4,639.0 124.7,637.1 124.9,633.0 125.2,635.3 125.4,632.1 125.7,636.1 125.9,633.3 126.2,639.4 126.4,638.1 126.7,628.3 126.9,639.4 127.2,634.7 127.4,634.4 127.7,639.1 127.9,644.4 128.2,641.7 128.4,635.0 128.7,633.7 128.9,639.9 129.2,637.4 129.4,633.7 129.7,640.8 129.9,636.4 130.2,637.1 130.4,633.6 130.7,636.6 130.9,636.2 131.2,635.3 131.4,634.5 131.7,635.2 131.9,637.6 132.2,636.2 132.4,637.4 132.7,637.8 132.9,638.0 133.2,639.4 133.4,638.2 133.7,641.7 133.9,639.5 134.2,635.5 134.4,637.2 134.7,638.5 134.9,637.0 135.2,641.0 135.4,633.0 135.7,639.2 135.9,639.6 136.2,634.9 136.4,634.7 136.7,644.4 136.9,639.5 137.2,639.3 137.4,636.0 137.7,640.8 137.9,637.3 138.2,637.5 138.4,640.4 138.7,642.1 138.9,639.0 139.2,635.1 139.4,638.9 139.7,635.2 139.9,642.3 140.2,638.2 140.4,636.7 140.7,637.0 140.9,637.9 141.2,641.1 141.4,643.1 141.7,641.3 141.9,635.6 142.2,637.3 142.4,641.2 142.7,638.5 142.9,640.7 143.2,636.6 143.4,634.7 143.7,640.0 143.9,640.9 144.2,643.8 144.4,640.0 144.7,641.5 144.9,645.5 145.2,643.3 145.4,640.5 145.7,638.4 145.9,643.1 146.2,639.4 146.4,645.3 146.7,642.5 146.9,642.9 147.2,645.9 147.4,642.0 147.7,645.6 147.9,639.6 148.2,641.5 148.4,642.0 148.7,641.2 148.9,645.3 149.2,640.0 149.4,642.8 149.7,638.6 149.9,640.3 150.2,633.5 150.4,642.7 150.7,641.0 150.9,641.0 151.2,638.5 151.4,638.8 151.7,639.2 151.9,639.6 152.2,644.2 152.4,633.2 152.7,650.9 152.9,644.3 153.2,641.2 153.4,648.5 153.7,639.6 153.9,642.5 154.2,636.5 154.4,646.6 154.7,641.3 154.9,643.3 155.2,645.0 155.4,638.7 155.7,643.5 155.9,643.0 156.2,647.2 156.4,645.8 156.7,635.9 156.9,644.0 157.2,637.7 157.4,640.0 157.7,641.7 157.9,649.1 158.2,634.3 158.4,641.5 158.7,639.6 158.9,643.0 159.2,643.8 159.4,640.8 159.7,638.3 159.9,644.2 160.2,641.4 160.4,646.2 160.7,646.6 160.9,647.1 161.2,642.1 161.4,640.2 161.7,641.3 161.9,642.6 162.2,644.5 162.4,644.8 162.7,644.7 162.9,646.6 163.2,644.0 163.4,647.7 163.7,648.1 163.9,648.1 164.2,640.4 164.4,646.6 164.7,640.0 164.9,642.3 165.2,647.3 165.4,646.4 165.7,641.9 165.9,649.8 166.2,650.6 166.4,644.1 166.7,643.9 166.9,640.9 167.2,645.7 167.4,650.2 167.7,648.7 167.9,648.5 168.2,646.7 168.4,645.9 168.7,642.6 168.9,644.3 169.2,646.2 169.4,642.8 169.7,643.1 169.9,643.3 170.2,646.4 170.4,643.6 170.7,647.3 170.9,643.8 171.2,643.2 171.4,645.4 171.7,646.2 171.9,647.0 172.2,641.0 172.4,645.8 172.7,645.8 172.9,643.5 173.2,647.5 173.4,648.8 173.7,639.4 173.9,647.5 174.2,649.5 174.4,643.2 174.7,640.7 174.9,647.8 175.2,645.8 175.4,644.9 175.7,653.7 175.9,648.8 176.2,644.1 176.4,647.1 176.7,647.3 176.9,647.8 177.2,646.6 177.4,639.1 177.7,645.2 177.9,645.1 178.2,647.5 178.4,645.2 178.7,643.9 178.9,653.2 179.2,646.4 179.4,648.7 179.7,644.0 179.9,645.2 180.2,638.1 180.4,644.7 180.7,644.9 180.9,642.2 181.2,645.5 181.4,649.6 181.7,640.9 181.9,643.8 182.2,644.9 182.4,642.3 182.7,646.5 182.9,643.8 183.2,639.2 183.5,645.4 183.7,641.4 184.0,645.9 184.2,641.0 184.5,645.2 184.7,640.7 185.0,645.8 185.2,644.0 185.5,644.9 185.7,645.2 186.0,642.6 186.2,641.4 186.5,641.2 186.7,639.7 187.0,637.1 187.2,632.6 187.5,628.6 187.7,633.8 188.0,637.4 188.2,638.7 188.5,642.8 188.7,639.2 189.0,646.0 189.2,648.1 189.5,639.6 189.7,647.7 190.0,642.8 190.2,641.0 190.5,643.4 190.7,641.7 191.0,643.2 191.2,642.9 191.5,641.2 191.7,643.2 192.0,639.8 192.2,638.2 192.5,640.6 192.7,640.2 193.0,644.2 193.2,640.8 193.5,643.2 193.7,640.6 194.0,645.4 194.2,644.8 194.5,639.8 194.7,642.4 195.0,644.3 195.2,643.2 195.5,645.5 195.7,643.9 196.0,640.8 196.2,643.8 196.5,640.4 196.7,639.9 197.0,640.7 197.2,644.5 197.5,637.6 197.7,639.8 198.0,649.4 198.2,645.1 198.5,637.6 198.7,636.7 199.0,641.5 199.2,641.4 199.5,641.9 199.7,643.8 200.0,640.0 200.2,637.9 200.5,640.9 200.7,640.5 201.0,642.6 201.2,638.9 201.5,636.5 201.7,637.4 202.0,637.1 202.2,635.7 202.5,645.2 202.7,640.9 203.0,637.7 203.2,636.6 203.5,635.9 203.7,647.3 204.0,636.6 204.2,647.7 204.5,636.1 204.7,637.4 205.0,648.8 205.2,638.3 205.5,648.7 205.7,637.1 206.0,639.3 206.2,638.4 206.5,642.1 206.7,643.3 207.0,641.5 207.2,640.3 207.5,639.8 207.7,648.3 208.0,641.4 208.2,638.1 208.5,640.3 208.7,635.2 209.0,643.0 209.2,636.0 209.5,637.3 209.7,638.5 210.0,639.2 210.2,640.5 210.5,642.7 210.7,640.6 211.0,636.2 211.2,636.8 211.5,638.5 211.7,640.8 212.0,639.3 212.2,638.5 212.5,638.5 212.7,637.8 213.0,640.0 213.2,638.2 213.5,639.1 213.7,637.4 214.0,642.2 214.2,635.9 214.5,638.2 214.7,637.0 215.0,634.2 215.2,641.6 215.5,643.4 215.7,636.9 216.0,640.1 216.2,635.5 216.5,635.7 216.7,637.0 217.0,642.7 217.2,635.8 217.5,639.4 217.7,638.1 218.0,639.0 218.2,636.3 218.5,635.9 218.7,637.9 219.0,641.5 219.2,633.0 219.5,645.3 219.7,635.8 220.0,638.5 220.2,637.8 220.5,645.0 220.7,632.3 221.0,630.9 221.2,635.1 221.5,632.4 221.7,634.2 222.0,641.0 222.2,636.6 222.5,634.3 222.7,634.3 223.0,633.6 223.2,635.7 223.5,636.5 223.7,633.4 224.0,634.2 224.2,636.1 224.5,636.7 224.7,636.2 225.0,631.6 225.2,633.9 225.5,633.9 225.7,637.4 226.0,636.1 226.2,631.9 226.5,635.6 226.7,638.6 227.0,636.8 227.2,637.0 227.5,640.8 227.7,637.6 228.0,635.8 228.2,633.7 228.5,635.1 228.7,631.4 229.0,637.8 229.2,636.2 229.5,634.5 229.7,633.6 230.0,634.9 230.2,632.6 230.5,631.1 230.7,631.6 231.0,634.5 231.2,634.5 231.5,635.5 231.7,632.4 232.0,631.2 232.2,634.2 232.5,627.5 232.7,634.4 233.0,632.6 233.2,636.0 233.5,628.5 233.7,630.4 234.0,634.2 234.2,632.4 234.5,633.5 234.7,630.6 235.0,631.8 235.2,632.9 235.5,630.3 235.7,634.4 236.0,631.8 236.2,636.9 236.5,632.3 236.7,633.5 237.0,633.3 237.2,631.9 237.5,633.7 237.7,639.0 238.0,633.0 238.2,633.0 238.5,632.2 238.7,634.1 239.0,631.1 239.2,631.5 239.5,629.1 239.7,632.6 240.0,630.1 240.2,632.7 240.5,631.0 240.7,633.6 241.0,630.0 241.2,633.6 241.5,629.8 241.7,632.8 242.0,630.2 242.2,630.3 242.5,631.4 242.7,631.7 243.0,632.8 243.2,629.0 243.5,631.4 243.7,631.0 244.0,628.9 244.2,626.6 244.5,631.0 244.7,629.1 245.0,628.9 245.2,627.6 245.5,631.7 245.7,631.1 246.0,632.1 246.2,632.2 246.5,631.1 246.7,627.7 247.0,632.9 247.2,630.5 247.5,629.1 247.7,630.7 248.0,628.1 248.2,630.8 248.5,629.5 248.7,630.3 249.0,629.8 249.2,629.8 249.5,630.5 249.7,628.1 250.0,631.5 250.2,630.5 250.5,630.6 250.7,632.5 251.0,630.9 251.2,631.9 251.5,634.8 251.7,631.3 252.0,634.6 252.2,632.0 252.5,628.0 252.7,634.8 253.0,631.8 253.2,631.3 253.5,634.9 253.7,633.7 254.0,631.3 254.2,632.1 254.5,631.7 254.7,631.5 255.0,630.4 255.2,632.9 255.5,630.3 255.7,633.8 256.0,630.7 256.2,631.8 256.5,631.6 256.7,634.5 257.0,634.9 257.3,633.0 257.5,633.1 257.8,639.2 258.0,635.1 258.3,637.6 258.5,633.6 258.8,634.2 259.0,632.8 259.3,635.5 259.5,632.3 259.8,636.9 260.0,635.0 260.3,635.0 260.5,636.0 260.8,632.6 261.0,635.3 261.3,635.9 261.5,636.3 261.8,635.3 262.0,640.0 262.3,635.4 262.5,639.2 262.8,636.6 263.0,634.3 263.3,638.5 263.5,636.8 263.8,638.7 264.0,639.7 264.3,638.0 264.5,636.9 264.8,642.6 265.0,636.0 265.3,636.3 265.5,638.4 265.8,635.1 266.0,640.2 266.3,634.2 266.5,644.5 266.8,643.3 267.0,641.7 267.3,640.0 267.5,638.7 267.8,640.0 268.0,637.5 268.3,638.5 268.5,639.1 268.8,640.6 269.0,643.5 269.3,641.5 269.5,648.4 269.8,643.6 270.0,639.0 270.3,642.9 270.5,635.5 270.8,638.3 271.0,645.5 271.3,643.5 271.5,644.8 271.8,642.3 272.0,643.0 272.3,653.1 272.5,648.6 272.8,642.2 273.0,642.1 273.3,649.9 273.5,645.0 273.8,648.1 274.0,649.2 274.3,649.1 274.5,645.9 274.8,646.3 275.0,647.7 275.3,655.0 275.5,645.0 275.8,643.5 276.0,644.8 276.3,642.3 276.5,641.9 276.8,643.6 277.0,649.6 277.3,644.5 277.5,655.4 277.8,651.1 278.0,648.0 278.3,644.7 278.5,652.5 278.8,647.7 279.0,639.4 279.3,654.7 279.5,643.6 279.8,645.7 280.0,652.4 280.3,650.6 280.5,647.0 280.8,649.1 281.0,646.5 281.3,652.3 281.5,656.9 281.8,646.4 282.0,644.8 282.3,648.4 282.5,655.0 282.8,655.0 283.0,654.6 283.3,651.1 283.5,649.7 283.8,646.7 284.0,647.8 284.3,660.6 284.5,650.1 284.8,650.7 285.0,651.1 285.3,645.6 285.5,648.9 285.8,651.2 286.0,655.8 286.3,653.4 286.5,654.3 286.8,653.5 287.0,647.5 287.3,650.7 287.5,649.1 287.8,654.8 288.0,651.5 288.3,651.5 288.5,645.8 288.8,656.8 289.0,654.8 289.3,652.7 289.5,653.0 289.8,654.6 290.0,648.7 290.3,651.8 290.5,654.4 290.8,649.7 291.0,651.8 291.3,650.4 291.5,651.8 291.8,647.7 292.0,650.7 292.3,649.7 292.5,649.0 292.8,645.2 293.0,656.6 293.3,648.5 293.5,660.1 293.8,653.9 294.0,656.7 294.3,658.3 294.5,657.8 294.8,651.8 295.0,651.6 295.3,656.8 295.5,652.8 295.8,653.3 296.0,655.6 296.3,656.5 296.5,649.3 296.8,655.5 297.0,649.8 297.3,656.1 297.5,651.1 297.8,657.1 298.0,660.3 298.3,655.7 298.5,661.2 298.8,657.1 299.0,647.6 299.3,656.4 299.5,646.4 299.8,655.2 300.0,656.6 300.3,655.1 300.5,657.0 300.8,653.9 301.0,664.5 301.3,656.8 301.5,653.6 301.8,662.4 302.0,658.2 302.3,657.8 302.5,657.5 302.8,655.5 303.0,658.4 303.3,660.9 303.5,653.2 303.8,653.5 304.0,652.9 304.3,656.4 304.5,658.3 304.8,655.1 305.0,657.9 305.3,656.3 305.5,647.9 305.8,655.5 306.0,655.9 306.3,652.7 306.5,659.5 306.8,651.5 307.0,652.6 307.3,653.8 307.5,657.2 307.8,652.1 308.0,660.2 308.3,656.8 308.5,658.8 308.8,655.5 309.0,662.6 309.3,655.9 309.5,651.4 309.8,656.6 310.0,652.6 310.3,651.4 310.5,655.3 310.8,652.5 311.0,652.0 311.3,656.6 311.5,648.2 311.8,645.9 312.0,656.0 312.3,663.8 312.5,648.7 312.8,656.3 313.0,648.9 313.3,654.8 313.5,659.0 313.8,652.2 314.0,654.2 314.3,650.8 314.5,653.7 314.8,657.4 315.0,653.5 315.3,648.3 315.5,654.4 315.8,654.9 316.0,657.9 316.3,654.1 316.5,649.0 316.8,651.9 317.0,645.1 317.3,654.3 317.5,653.0 317.8,656.4 318.0,657.9 318.3,647.4 318.5,656.0 318.8,652.6 319.0,655.5 319.3,649.8 319.5,646.4 319.8,661.1 320.0,656.9 320.3,651.8 320.5,656.3 320.8,649.4 321.0,656.9 321.3,652.5 321.5,652.9 321.8,653.7 322.0,650.2 322.3,650.1 322.5,658.9 322.8,651.7 323.0,659.0 323.3,648.1 323.5,654.1 323.8,653.3 324.0,655.4 324.3,651.5 324.5,654.1 324.8,646.9 325.0,650.8 325.3,648.9 325.5,651.7 325.8,657.9 326.0,657.2 326.3,655.7 326.5,647.5 326.8,653.2 327.0,649.2 327.3,652.9 327.5,651.4 327.8,646.9 328.0,651.5 328.3,652.1 328.5,657.0 328.8,646.6 329.0,655.1 329.3,647.8 329.5,656.9 329.8,659.5 330.0,648.3 330.3,647.5 330.6,649.8 330.8,655.8 331.1,650.8 331.3,651.5 331.6,648.0 331.8,660.9 332.1,647.9 332.3,649.8 332.6,652.0 332.8,651.5 333.1,655.0 333.3,653.7 333.6,657.9 333.8,653.2 334.1,652.6 334.3,655.4 334.6,648.6 334.8,650.8 335.1,651.7 335.3,652.4 335.6,652.8 335.8,642.3 336.1,654.0 336.3,646.5 336.6,644.9 336.8,652.0 337.1,652.7 337.3,660.1 337.6,645.7 337.8,650.2 338.1,648.2 338.3,647.4 338.6,644.3 338.8,645.9 339.1,646.9 339.3,656.2 339.6,643.6 339.8,653.3 340.1,650.1 340.3,646.4 340.6,652.5 340.8,648.7 341.1,651.9 341.3,646.6 341.6,650.7 341.8,649.3 342.1,651.5 342.3,643.4 342.6,650.0 342.8,647.6 343.1,646.5 343.3,653.1 343.6,649.4 343.8,651.3 344.1,654.0 344.3,648.4 344.6,647.1 344.8,647.6 345.1,643.7 345.3,652.0 345.6,648.8 345.8,651.1 346.1,648.0 346.3,649.9 346.6,654.6 346.8,652.4 347.1,649.2 347.3,649.1 347.6,648.5 347.8,656.0 348.1,651.3 348.3,656.2 348.6,640.8 348.8,642.8 349.1,646.0 349.3,646.6 349.6,652.0 349.8,649.1 350.1,650.6 350.3,649.4 350.6,645.8 350.8,643.3 351.1,652.9 351.3,654.9 351.6,651.1 351.8,649.1 352.1,648.9 352.3,646.4 352.6,654.3 352.8,638.9 353.1,648.0 353.3,647.2 353.6,643.3 353.8,647.7 354.1,642.0 354.3,644.4 354.6,646.6 354.8,648.9 355.1,645.1 355.3,642.3 355.6,642.9 355.8,642.5 356.1,644.5 356.3,640.5 356.6,641.0 356.8,640.7 357.1,638.7 357.3,639.2 357.6,637.4 357.8,642.8 358.1,636.9 358.3,640.6 358.6,637.0 358.8,641.6 359.1,637.6 359.3,628.3 359.6,627.3 359.8,618.6 360.1,613.0 360.3,605.1 360.6,606.2 360.8,616.6 361.1,621.2 361.3,628.3 361.6,633.6 361.8,638.2 362.1,639.4 362.3,649.4 362.6,644.7 362.8,643.2 363.1,643.0 363.3,642.7 363.6,644.9 363.8,647.8 364.1,650.3 364.3,641.6 364.6,641.0 364.8,647.4 365.1,646.1 365.3,642.0 365.6,645.6 365.8,648.0 366.1,654.6 366.3,644.7 366.6,646.8 366.8,648.0 367.1,643.8 367.3,642.4 367.6,647.0 367.8,650.6 368.1,650.0 368.3,643.4 368.6,647.6 368.8,643.4 369.1,648.9 369.3,650.6 369.6,644.8 369.8,642.3 370.1,643.8 370.3,644.5 370.6,650.4 370.8,641.9 371.1,648.0 371.3,647.0 371.6,644.2 371.8,653.4 372.1,648.5 372.3,643.5 372.6,635.6 372.8,642.7 373.1,647.0 373.3,641.2 373.6,642.3 373.8,642.1 374.1,639.9 374.3,644.8 374.6,641.5 374.8,645.1 375.1,634.9 375.3,637.9 375.6,642.1 375.8,631.9 376.1,629.2 376.3,629.5 376.6,633.6 376.8,640.3 377.1,642.2 377.3,636.7 377.6,634.8 377.8,640.1 378.1,642.4 378.3,639.3 378.6,636.5 378.8,643.4 379.1,647.0 379.3,643.0 379.6,640.6 379.8,646.2 380.1,645.4 380.3,642.9 380.6,642.4 380.8,640.5 381.1,639.7 381.3,631.3 381.6,640.4 381.8,638.1 382.1,637.3 382.3,639.5 382.6,641.3 382.8,640.2 383.1,641.7 383.3,639.8 383.6,635.5 383.8,645.5 384.1,637.2 384.3,636.9 384.6,637.9 384.8,639.2 385.1,634.8 385.3,641.2 385.6,639.0 385.8,635.1 386.1,636.1 386.3,634.3 386.6,635.4 386.8,638.1 387.1,635.0 387.3,635.5 387.6,640.8 387.8,636.8 388.1,637.1 388.3,636.9 388.6,636.6 388.8,631.6 389.1,634.0 389.3,637.0 389.6,635.5 389.8,637.6 390.1,630.0 390.3,632.2 390.6,637.4 390.8,631.2 391.1,637.3 391.3,636.1 391.6,637.4 391.8,640.1 392.1,638.0 392.3,638.8 392.6,637.3 392.8,638.9 393.1,639.8 393.3,636.1 393.6,641.2 393.8,636.4 394.1,638.3 394.3,640.1 394.6,638.0 394.8,641.6 395.1,638.0 395.3,641.6 395.6,641.9 395.8,639.3 396.1,637.8 396.3,644.5 396.6,641.9 396.8,641.4 397.1,637.6 397.3,632.7 397.6,641.7 397.8,643.7 398.1,641.7 398.3,642.2 398.6,636.4 398.8,639.0 399.1,643.6 399.3,640.3 399.6,643.3 399.8,640.5 400.1,650.0 400.3,643.8 400.6,642.8 400.8,636.6 401.1,647.1 401.3,643.0 401.6,640.7 401.8,645.4 402.1,643.0 402.3,647.2 402.6,642.6 402.8,645.9 403.1,647.7 403.3,647.1 403.6,641.0 403.8,640.6 404.1,644.8 404.4,650.5 404.6,642.3 404.9,646.9 405.1,640.7 405.4,644.9 405.6,646.4 405.9,648.2 406.1,646.1 406.4,643.1 406.6,649.7 406.9,641.3 407.1,649.5 407.4,637.1 407.6,643.2 407.9,647.0 408.1,637.4 408.4,637.6 408.6,643.1 408.9,644.5 409.1,642.9 409.4,649.8 409.6,643.8 409.9,649.2 410.1,646.3 410.4,647.5 410.6,644.9 410.9,642.9 411.1,649.2 411.4,646.6 411.6,651.3 411.9,651.0 412.1,648.2 412.4,649.5 412.6,648.5 412.9,648.4 413.1,643.7 413.4,650.4 413.6,654.7 413.9,647.1 414.1,644.2 414.4,652.6 414.6,650.0 414.9,651.6 415.1,653.3 415.4,651.7 415.6,646.5 415.9,644.1 416.1,649.3 416.4,644.4 416.6,655.3 416.9,650.4 417.1,649.1 417.4,647.8 417.6,653.5 417.9,653.9 418.1,652.0 418.4,653.8 418.6,641.5 418.9,654.2 419.1,650.5 419.4,648.3 419.6,646.2 419.9,642.5 420.1,643.2 420.4,649.5 420.6,649.7 420.9,653.7 421.1,660.4 421.4,646.2 421.6,656.2 421.9,647.7 422.1,654.6 422.4,654.8 422.6,644.9 422.9,658.3 423.1,652.9 423.4,653.2 423.6,650.8 423.9,643.8 424.1,651.2 424.4,649.1 424.6,656.4 424.9,645.6 425.1,656.8 425.4,653.3 425.6,656.9 425.9,649.8 426.1,649.3 426.4,654.2 426.6,645.1 426.9,652.5 427.1,648.6 427.4,656.9 427.6,658.1 427.9,658.0 428.1,657.7 428.4,655.6 428.6,655.8 428.9,651.0 429.1,660.1 429.4,654.1 429.6,660.1 429.9,649.7 430.1,655.9 430.4,647.6 430.6,649.1 430.9,655.1 431.1,652.7 431.4,653.7 431.6,654.1 431.9,661.0 432.1,654.9 432.4,648.8 432.6,657.2 432.9,657.1 433.1,652.7 433.4,658.5 433.6,653.5 433.9,661.0 434.1,662.6 434.4,658.1 434.6,658.7 434.9,657.1 435.1,654.3 435.4,658.0 435.6,654.3 435.9,653.1 436.1,657.3 436.4,654.7 436.6,657.1 436.9,663.7 437.1,654.2 437.4,660.4 437.6,658.3 437.9,665.7 438.1,656.2 438.4,665.0 438.6,660.8 438.9,657.6 439.1,659.5 439.4,653.6 439.6,657.5 439.9,661.4 440.1,659.5 440.4,662.8 440.6,658.3 440.9,662.7 441.1,651.8 441.4,660.5 441.6,666.9 441.9,656.8 442.1,662.3 442.4,661.0 442.6,662.8 442.9,655.9 443.1,657.4 443.4,658.2 443.6,661.2 443.9,657.0 444.1,660.6 444.4,663.9 444.6,658.8 444.9,660.2 445.1,662.3 445.4,669.6 445.6,655.6 445.9,661.9 446.1,662.8 446.4,668.8 446.6,665.2 446.9,665.9 447.1,655.4 447.4,661.8 447.6,663.7 447.9,659.9 448.1,663.9 448.4,655.0 448.6,657.2 448.9,654.2 449.1,662.4 449.4,661.2 449.6,655.2 449.9,656.1 450.1,656.4 450.4,665.3 450.6,654.8 450.9,660.0 451.1,657.7 451.4,660.0 451.6,655.1 451.9,649.2 452.1,655.6 452.4,656.2 452.6,655.7 452.9,653.7 453.1,660.5 453.4,651.8 453.6,659.6 453.9,662.8 454.1,660.4 454.4,658.4 454.6,656.3 454.9,658.3 455.1,654.9 455.4,664.5 455.6,658.1 455.9,649.5 456.1,655.1 456.4,658.7 456.6,665.5 456.9,651.2 457.1,664.3 457.4,659.5 457.6,651.5 457.9,656.6 458.1,659.1 458.4,652.1 458.6,650.2 458.9,640.6 459.1,640.3 459.4,641.3 459.6,649.9 459.9,653.1 460.1,657.3 460.4,658.6 460.6,652.9 460.9,658.7 461.1,649.7 461.4,656.4 461.6,650.5 461.9,657.6 462.1,654.9 462.4,657.1 462.6,664.4 462.9,653.0 463.1,650.9 463.4,657.8 463.6,664.8 463.9,661.6 464.1,658.9 464.4,661.1 464.6,663.4 464.9,658.8 465.1,654.1 465.4,663.4 465.6,662.0 465.9,660.9 466.1,669.4 466.4,666.2 466.6,655.3 466.9,663.7 467.1,660.2 467.4,660.0 467.6,656.8 467.9,654.3 468.1,656.7 468.4,663.1 468.6,667.9 468.9,660.9 469.1,658.7 469.4,665.8 469.6,667.2 469.9,661.8 470.1,662.8 470.4,659.2 470.6,664.2 470.9,663.5 471.1,657.4 471.4,668.0 471.6,670.6 471.9,663.6 472.1,661.5 472.4,660.1 472.6,661.7 472.9,665.2 473.1,664.8 473.4,658.5 473.6,652.4 473.9,661.2 474.1,660.8 474.4,663.0 474.6,662.3 474.9,666.9 475.1,660.4 475.4,664.9 475.6,658.3 475.9,662.2 476.1,669.8 476.4,659.5 476.6,656.3 476.9,656.6 477.1,656.9 477.4,656.3 477.6,657.4 477.9,660.8"/>
<rect x="86.6" y="97.4" width="123.2" height="30.7" fill="#fff" stroke="#777" stroke-width="1.2"/>
<text x="89.4" y="120.4" font-size="23" fill="#1c55c8" stroke="#1c55c8" class="t" textLength="117.45" lengthAdjust="spacingAndGlyphs">30 nm_RTA</text>
<rect x="86.4" y="211.5" width="123.4" height="30.7" fill="#fff" stroke="#777" stroke-width="1.2"/>
<text x="90.3" y="234.5" font-size="23" fill="#d42834" stroke="#d42834" class="t" textLength="116.13" lengthAdjust="spacingAndGlyphs">15 nm_RTA</text>
<rect x="87.8" y="321.9" width="110.7" height="30.7" fill="#fff" stroke="#777" stroke-width="1.2"/>
<text x="90.4" y="344.9" font-size="23" fill="#000" stroke="#000" class="t" textLength="105.09" lengthAdjust="spacingAndGlyphs">5 nm_RTA</text>
<rect x="87.9" y="432.5" width="109.6" height="30.9" fill="#fff" stroke="#777" stroke-width="1.2"/>
<text x="90.5" y="455.5" font-size="23" fill="#1c55c8" stroke="#1c55c8" class="t" textLength="104.57" lengthAdjust="spacingAndGlyphs">30 nm_AD</text>
<rect x="89" y="546.5" width="109.4" height="30.5" fill="#fff" stroke="#777" stroke-width="1.2"/>
<text x="91.7" y="569.5" font-size="23" fill="#d42834" stroke="#d42834" class="t" textLength="103.24" lengthAdjust="spacingAndGlyphs">15 nm_AD</text>
<rect x="88.5" y="658.4" width="97.5" height="30.3" fill="#fff" stroke="#777" stroke-width="1.2"/>
<text x="90.9" y="681.4" font-size="23" fill="#000" stroke="#000" class="t" textLength="92.48" lengthAdjust="spacingAndGlyphs">5 nm_AD</text>
<path fill="none" stroke="#000" stroke-width="1.6" d="M78.4 128.95H82.4M509.01 128.95H505.01M78.4 122.42H82.4M509.01 122.42H505.01M78.4 117.78H82.4M509.01 117.78H505.01M78.4 114.18H82.4M509.01 114.18H505.01M78.4 111.25H82.4M509.01 111.25H505.01M78.4 108.76H82.4M509.01 108.76H505.01M78.4 106.61H82.4M509.01 106.61H505.01M78.4 104.71H82.4M509.01 104.71H505.01M78.4 103.01H86.4M509.01 103.01H501.01M78.4 91.84H82.4M509.01 91.84H505.01M78.4 85.31H82.4M509.01 85.31H505.01M78.4 80.67H82.4M509.01 80.67H505.01M78.4 77.08H82.4M509.01 77.08H505.01M78.4 74.14H82.4M509.01 74.14H505.01M78.4 71.65H82.4M509.01 71.65H505.01M78.4 69.5H82.4M509.01 69.5H505.01M78.4 67.6H82.4M509.01 67.6H505.01M78.4 65.91H86.4M509.01 65.91H501.01M78.4 54.74H82.4M509.01 54.74H505.01M78.4 48.2H82.4M509.01 48.2H505.01M78.4 43.57H82.4M509.01 43.57H505.01M78.4 39.97H82.4M509.01 39.97H505.01M78.4 37.03H82.4M509.01 37.03H505.01M78.4 34.55H82.4M509.01 34.55H505.01M78.4 32.4H82.4M509.01 32.4H505.01M78.4 30.5H82.4M509.01 30.5H505.01M93.76 140.12V136.12M109.12 140.12V132.62M124.47 140.12V136.12M139.83 140.12V132.62M155.19 140.12V136.12M170.55 140.12V132.62M185.9 140.12V136.12M201.26 140.12V132.62M216.62 140.12V136.12M231.97 140.12V132.62M247.33 140.12V136.12M262.69 140.12V132.62M278.05 140.12V136.12M293.4 140.12V132.62M308.76 140.12V136.12M324.12 140.12V132.62M339.48 140.12V136.12M354.84 140.12V132.62M370.19 140.12V136.12M385.55 140.12V132.62M400.91 140.12V136.12M416.26 140.12V132.62M431.62 140.12V136.12M446.98 140.12V132.62M462.34 140.12V136.12M477.69 140.12V132.62M493.05 140.12V136.12M78.4 240.27H82.4M509.01 240.27H505.01M78.4 233.74H82.4M509.01 233.74H505.01M78.4 229.1H82.4M509.01 229.1H505.01M78.4 225.5H82.4M509.01 225.5H505.01M78.4 222.57H82.4M509.01 222.57H505.01M78.4 220.08H82.4M509.01 220.08H505.01M78.4 217.93H82.4M509.01 217.93H505.01M78.4 216.03H82.4M509.01 216.03H505.01M78.4 214.33H86.4M509.01 214.33H501.01M78.4 203.16H82.4M509.01 203.16H505.01M78.4 196.63H82.4M509.01 196.63H505.01M78.4 191.99H82.4M509.01 191.99H505.01M78.4 188.4H82.4M509.01 188.4H505.01M78.4 185.46H82.4M509.01 185.46H505.01M78.4 182.97H82.4M509.01 182.97H505.01M78.4 180.82H82.4M509.01 180.82H505.01M78.4 178.92H82.4M509.01 178.92H505.01M78.4 177.23H86.4M509.01 177.23H501.01M78.4 166.06H82.4M509.01 166.06H505.01M78.4 159.52H82.4M509.01 159.52H505.01M78.4 154.89H82.4M509.01 154.89H505.01M78.4 151.29H82.4M509.01 151.29H505.01M78.4 148.35H82.4M509.01 148.35H505.01M78.4 145.87H82.4M509.01 145.87H505.01M78.4 143.72H82.4M509.01 143.72H505.01M78.4 141.82H82.4M509.01 141.82H505.01M93.76 251.44V247.44M109.12 251.44V243.94M124.47 251.44V247.44M139.83 251.44V243.94M155.19 251.44V247.44M170.55 251.44V243.94M185.9 251.44V247.44M201.26 251.44V243.94M216.62 251.44V247.44M231.97 251.44V243.94M247.33 251.44V247.44M262.69 251.44V243.94M278.05 251.44V247.44M293.4 251.44V243.94M308.76 251.44V247.44M324.12 251.44V243.94M339.48 251.44V247.44M354.84 251.44V243.94M370.19 251.44V247.44M385.55 251.44V243.94M400.91 251.44V247.44M416.26 251.44V243.94M431.62 251.44V247.44M446.98 251.44V243.94M462.34 251.44V247.44M477.69 251.44V243.94M493.05 251.44V247.44M78.4 351.59H82.4M509.01 351.59H505.01M78.4 345.06H82.4M509.01 345.06H505.01M78.4 340.42H82.4M509.01 340.42H505.01M78.4 336.82H82.4M509.01 336.82H505.01M78.4 333.89H82.4M509.01 333.89H505.01M78.4 331.4H82.4M509.01 331.4H505.01M78.4 329.25H82.4M509.01 329.25H505.01M78.4 327.35H82.4M509.01 327.35H505.01M78.4 325.65H86.4M509.01 325.65H501.01M78.4 314.48H82.4M509.01 314.48H505.01M78.4 307.95H82.4M509.01 307.95H505.01M78.4 303.31H82.4M509.01 303.31H505.01M78.4 299.72H82.4M509.01 299.72H505.01M78.4 296.78H82.4M509.01 296.78H505.01M78.4 294.29H82.4M509.01 294.29H505.01M78.4 292.14H82.4M509.01 292.14H505.01M78.4 290.24H82.4M509.01 290.24H505.01M78.4 288.55H86.4M509.01 288.55H501.01M78.4 277.38H82.4M509.01 277.38H505.01M78.4 270.84H82.4M509.01 270.84H505.01M78.4 266.21H82.4M509.01 266.21H505.01M78.4 262.61H82.4M509.01 262.61H505.01M78.4 259.67H82.4M509.01 259.67H505.01M78.4 257.19H82.4M509.01 257.19H505.01M78.4 255.04H82.4M509.01 255.04H505.01M78.4 253.14H82.4M509.01 253.14H505.01M93.76 362.76V358.76M109.12 362.76V355.26M124.47 362.76V358.76M139.83 362.76V355.26M155.19 362.76V358.76M170.55 362.76V355.26M185.9 362.76V358.76M201.26 362.76V355.26M216.62 362.76V358.76M231.97 362.76V355.26M247.33 362.76V358.76M262.69 362.76V355.26M278.05 362.76V358.76M293.4 362.76V355.26M308.76 362.76V358.76M324.12 362.76V355.26M339.48 362.76V358.76M354.84 362.76V355.26M370.19 362.76V358.76M385.55 362.76V355.26M400.91 362.76V358.76M416.26 362.76V355.26M431.62 362.76V358.76M446.98 362.76V355.26M462.34 362.76V358.76M477.69 362.76V355.26M493.05 362.76V358.76M78.4 462.91H82.4M509.01 462.91H505.01M78.4 456.38H82.4M509.01 456.38H505.01M78.4 451.74H82.4M509.01 451.74H505.01M78.4 448.14H82.4M509.01 448.14H505.01M78.4 445.21H82.4M509.01 445.21H505.01M78.4 442.72H82.4M509.01 442.72H505.01M78.4 440.57H82.4M509.01 440.57H505.01M78.4 438.67H82.4M509.01 438.67H505.01M78.4 436.97H86.4M509.01 436.97H501.01M78.4 425.8H82.4M509.01 425.8H505.01M78.4 419.27H82.4M509.01 419.27H505.01M78.4 414.63H82.4M509.01 414.63H505.01M78.4 411.04H82.4M509.01 411.04H505.01M78.4 408.1H82.4M509.01 408.1H505.01M78.4 405.61H82.4M509.01 405.61H505.01M78.4 403.46H82.4M509.01 403.46H505.01M78.4 401.56H82.4M509.01 401.56H505.01M78.4 399.87H86.4M509.01 399.87H501.01M78.4 388.7H82.4M509.01 388.7H505.01M78.4 382.16H82.4M509.01 382.16H505.01M78.4 377.53H82.4M509.01 377.53H505.01M78.4 373.93H82.4M509.01 373.93H505.01M78.4 370.99H82.4M509.01 370.99H505.01M78.4 368.51H82.4M509.01 368.51H505.01M78.4 366.36H82.4M509.01 366.36H505.01M78.4 364.46H82.4M509.01 364.46H505.01M93.76 474.08V470.08M109.12 474.08V466.58M124.47 474.08V470.08M139.83 474.08V466.58M155.19 474.08V470.08M170.55 474.08V466.58M185.9 474.08V470.08M201.26 474.08V466.58M216.62 474.08V470.08M231.97 474.08V466.58M247.33 474.08V470.08M262.69 474.08V466.58M278.05 474.08V470.08M293.4 474.08V466.58M308.76 474.08V470.08M324.12 474.08V466.58M339.48 474.08V470.08M354.84 474.08V466.58M370.19 474.08V470.08M385.55 474.08V466.58M400.91 474.08V470.08M416.26 474.08V466.58M431.62 474.08V470.08M446.98 474.08V466.58M462.34 474.08V470.08M477.69 474.08V466.58M493.05 474.08V470.08M78.4 574.23H82.4M509.01 574.23H505.01M78.4 567.7H82.4M509.01 567.7H505.01M78.4 563.06H82.4M509.01 563.06H505.01M78.4 559.46H82.4M509.01 559.46H505.01M78.4 556.53H82.4M509.01 556.53H505.01M78.4 554.04H82.4M509.01 554.04H505.01M78.4 551.89H82.4M509.01 551.89H505.01M78.4 549.99H82.4M509.01 549.99H505.01M78.4 548.29H86.4M509.01 548.29H501.01M78.4 537.12H82.4M509.01 537.12H505.01M78.4 530.59H82.4M509.01 530.59H505.01M78.4 525.95H82.4M509.01 525.95H505.01M78.4 522.36H82.4M509.01 522.36H505.01M78.4 519.42H82.4M509.01 519.42H505.01M78.4 516.93H82.4M509.01 516.93H505.01M78.4 514.78H82.4M509.01 514.78H505.01M78.4 512.88H82.4M509.01 512.88H505.01M78.4 511.19H86.4M509.01 511.19H501.01M78.4 500.02H82.4M509.01 500.02H505.01M78.4 493.48H82.4M509.01 493.48H505.01M78.4 488.85H82.4M509.01 488.85H505.01M78.4 485.25H82.4M509.01 485.25H505.01M78.4 482.31H82.4M509.01 482.31H505.01M78.4 479.83H82.4M509.01 479.83H505.01M78.4 477.68H82.4M509.01 477.68H505.01M78.4 475.78H82.4M509.01 475.78H505.01M93.76 585.4V581.4M109.12 585.4V577.9M124.47 585.4V581.4M139.83 585.4V577.9M155.19 585.4V581.4M170.55 585.4V577.9M185.9 585.4V581.4M201.26 585.4V577.9M216.62 585.4V581.4M231.97 585.4V577.9M247.33 585.4V581.4M262.69 585.4V577.9M278.05 585.4V581.4M293.4 585.4V577.9M308.76 585.4V581.4M324.12 585.4V577.9M339.48 585.4V581.4M354.84 585.4V577.9M370.19 585.4V581.4M385.55 585.4V577.9M400.91 585.4V581.4M416.26 585.4V577.9M431.62 585.4V581.4M446.98 585.4V577.9M462.34 585.4V581.4M477.69 585.4V577.9M493.05 585.4V581.4M78.4 685.55H82.4M509.01 685.55H505.01M78.4 679.02H82.4M509.01 679.02H505.01M78.4 674.38H82.4M509.01 674.38H505.01M78.4 670.78H82.4M509.01 670.78H505.01M78.4 667.85H82.4M509.01 667.85H505.01M78.4 665.36H82.4M509.01 665.36H505.01M78.4 663.21H82.4M509.01 663.21H505.01M78.4 661.31H82.4M509.01 661.31H505.01M78.4 659.61H86.4M509.01 659.61H501.01M78.4 648.44H82.4M509.01 648.44H505.01M78.4 641.91H82.4M509.01 641.91H505.01M78.4 637.27H82.4M509.01 637.27H505.01M78.4 633.68H82.4M509.01 633.68H505.01M78.4 630.74H82.4M509.01 630.74H505.01M78.4 628.25H82.4M509.01 628.25H505.01M78.4 626.1H82.4M509.01 626.1H505.01M78.4 624.2H82.4M509.01 624.2H505.01M78.4 622.51H86.4M509.01 622.51H501.01M78.4 611.34H82.4M509.01 611.34H505.01M78.4 604.8H82.4M509.01 604.8H505.01M78.4 600.17H82.4M509.01 600.17H505.01M78.4 596.57H82.4M509.01 596.57H505.01M78.4 593.63H82.4M509.01 593.63H505.01M78.4 591.15H82.4M509.01 591.15H505.01M78.4 589H82.4M509.01 589H505.01M78.4 587.1H82.4M509.01 587.1H505.01M93.76 696.72V692.72M109.12 696.72V689.22M124.47 696.72V692.72M139.83 696.72V689.22M155.19 696.72V692.72M170.55 696.72V689.22M185.9 696.72V692.72M201.26 696.72V689.22M216.62 696.72V692.72M231.97 696.72V689.22M247.33 696.72V692.72M262.69 696.72V689.22M278.05 696.72V692.72M293.4 696.72V689.22M308.76 696.72V692.72M324.12 696.72V689.22M339.48 696.72V692.72M354.84 696.72V689.22M370.19 696.72V692.72M385.55 696.72V689.22M400.91 696.72V692.72M416.26 696.72V689.22M431.62 696.72V692.72M446.98 696.72V689.22M462.34 696.72V692.72M477.69 696.72V689.22M493.05 696.72V692.72M93.76 28.8V32.8M109.12 28.8V36.3M124.47 28.8V32.8M139.83 28.8V36.3M155.19 28.8V32.8M170.55 28.8V36.3M185.9 28.8V32.8M201.26 28.8V36.3M216.62 28.8V32.8M231.97 28.8V36.3M247.33 28.8V32.8M262.69 28.8V36.3M278.05 28.8V32.8M293.4 28.8V36.3M308.76 28.8V32.8M324.12 28.8V36.3M339.48 28.8V32.8M354.84 28.8V36.3M370.19 28.8V32.8M385.55 28.8V36.3M400.91 28.8V32.8M416.26 28.8V36.3M431.62 28.8V32.8M446.98 28.8V36.3M462.34 28.8V32.8M477.69 28.8V36.3M493.05 28.8V32.8"/>
<path fill="none" stroke="#000" stroke-width="1.8" d="M78.4 28.8V696.72M509.01 28.8V696.72M77.5 28.8H509.91M77.5 140.12H509.91M77.5 251.44H509.91M77.5 362.76H509.91M77.5 474.08H509.91M77.5 585.4H509.91M77.5 696.72H509.91"/>
<text x="69.1" y="33.8" text-anchor="end" font-size="17.8" class="k">1000</text><text x="69.1" y="70.91" text-anchor="end" font-size="17.8" class="k">100</text><text x="69.1" y="108.01" text-anchor="end" font-size="17.8" class="k">10</text><text x="69.1" y="145.34" text-anchor="end" font-size="17.8" class="k">1</text><text x="69.1" y="145.34" text-anchor="end" font-size="17.8" class="k">1000</text><text x="69.1" y="182.45" text-anchor="end" font-size="17.8" class="k">100</text><text x="69.1" y="219.55" text-anchor="end" font-size="17.8" class="k">10</text><text x="69.1" y="256.88" text-anchor="end" font-size="17.8" class="k">1</text><text x="69.1" y="256.88" text-anchor="end" font-size="17.8" class="k">1000</text><text x="69.1" y="293.99" text-anchor="end" font-size="17.8" class="k">100</text><text x="69.1" y="331.09" text-anchor="end" font-size="17.8" class="k">10</text><text x="69.1" y="368.42" text-anchor="end" font-size="17.8" class="k">1</text><text x="69.1" y="368.42" text-anchor="end" font-size="17.8" class="k">1000</text><text x="69.1" y="405.53" text-anchor="end" font-size="17.8" class="k">100</text><text x="69.1" y="442.63" text-anchor="end" font-size="17.8" class="k">10</text><text x="69.1" y="479.96" text-anchor="end" font-size="17.8" class="k">1</text><text x="69.1" y="479.96" text-anchor="end" font-size="17.8" class="k">1000</text><text x="69.1" y="517.07" text-anchor="end" font-size="17.8" class="k">100</text><text x="69.1" y="554.17" text-anchor="end" font-size="17.8" class="k">10</text><text x="69.1" y="591.5" text-anchor="end" font-size="17.8" class="k">1</text><text x="69.1" y="591.5" text-anchor="end" font-size="17.8" class="k">1000</text><text x="69.1" y="628.61" text-anchor="end" font-size="17.8" class="k">100</text><text x="69.1" y="665.71" text-anchor="end" font-size="17.8" class="k">10</text><text x="69.1" y="703.04" text-anchor="end" font-size="17.8" class="k">1</text>
<text x="78.4" y="14.9" text-anchor="middle" font-size="17.8" class="k">5</text><text x="78.4" y="720.6" text-anchor="middle" font-size="17.8" class="k">5</text><text x="109.12" y="14.9" text-anchor="middle" font-size="17.8" class="k">10</text><text x="109.12" y="720.6" text-anchor="middle" font-size="17.8" class="k">10</text><text x="139.83" y="14.9" text-anchor="middle" font-size="17.8" class="k">15</text><text x="139.83" y="720.6" text-anchor="middle" font-size="17.8" class="k">15</text><text x="170.55" y="14.9" text-anchor="middle" font-size="17.8" class="k">20</text><text x="170.55" y="720.6" text-anchor="middle" font-size="17.8" class="k">20</text><text x="201.26" y="14.9" text-anchor="middle" font-size="17.8" class="k">25</text><text x="201.26" y="720.6" text-anchor="middle" font-size="17.8" class="k">25</text><text x="231.97" y="14.9" text-anchor="middle" font-size="17.8" class="k">30</text><text x="231.97" y="720.6" text-anchor="middle" font-size="17.8" class="k">30</text><text x="262.69" y="14.9" text-anchor="middle" font-size="17.8" class="k">35</text><text x="262.69" y="720.6" text-anchor="middle" font-size="17.8" class="k">35</text><text x="293.4" y="14.9" text-anchor="middle" font-size="17.8" class="k">40</text><text x="293.4" y="720.6" text-anchor="middle" font-size="17.8" class="k">40</text><text x="324.12" y="14.9" text-anchor="middle" font-size="17.8" class="k">45</text><text x="324.12" y="720.6" text-anchor="middle" font-size="17.8" class="k">45</text><text x="354.84" y="14.9" text-anchor="middle" font-size="17.8" class="k">50</text><text x="354.84" y="720.6" text-anchor="middle" font-size="17.8" class="k">50</text><text x="385.55" y="14.9" text-anchor="middle" font-size="17.8" class="k">55</text><text x="385.55" y="720.6" text-anchor="middle" font-size="17.8" class="k">55</text><text x="416.26" y="14.9" text-anchor="middle" font-size="17.8" class="k">60</text><text x="416.26" y="720.6" text-anchor="middle" font-size="17.8" class="k">60</text><text x="446.98" y="14.9" text-anchor="middle" font-size="17.8" class="k">65</text><text x="446.98" y="720.6" text-anchor="middle" font-size="17.8" class="k">65</text><text x="477.69" y="14.9" text-anchor="middle" font-size="17.8" class="k">70</text><text x="477.69" y="720.6" text-anchor="middle" font-size="17.8" class="k">70</text><text x="508.41" y="14.9" text-anchor="middle" font-size="17.8" class="k">75</text><text x="508.41" y="720.6" text-anchor="middle" font-size="17.8" class="k">75</text>
<text x="293.2" y="754.6" text-anchor="middle" font-size="21.8" stroke="#000" class="t" textLength="111.8" lengthAdjust="spacingAndGlyphs">Angle (deg)</text>
<text transform="translate(18.8 340.3) rotate(-90)" text-anchor="middle" font-size="22.2" stroke="#000" class="t" textLength="140.9" lengthAdjust="spacingAndGlyphs">Intensity (cps)</text>
</svg></body></html>
